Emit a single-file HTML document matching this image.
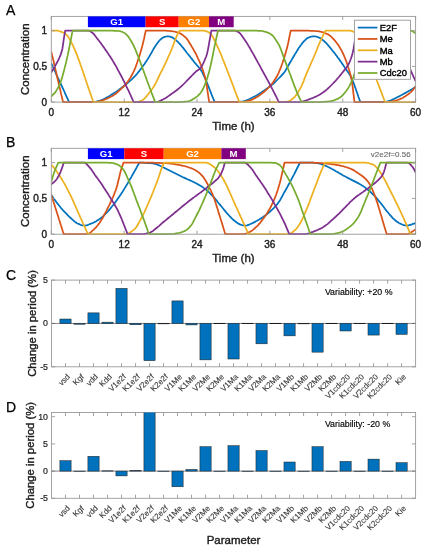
<!DOCTYPE html>
<html><head><meta charset="utf-8"><style>
html,body{margin:0;padding:0;background:#fff;width:426px;height:550px;overflow:hidden}
svg{display:block;font-family:"Liberation Sans", sans-serif}
#wrap{width:426px;height:550px;will-change:transform}
</style></head><body><div id="wrap">
<svg width="426" height="550" viewBox="0 0 426 550">
<g>
<rect width="426" height="550" fill="#fff"/>
<clipPath id="clipA"><rect x="51.3" y="15.399999999999999" width="364.3" height="87.69999999999999"/></clipPath>
<g clip-path="url(#clipA)" fill="none" stroke-width="1.75" stroke-linejoin="round" stroke-linecap="round">
<path d="M51.4,63.6 L52.4,65.7 L53.4,67.9 L54.4,70.0 L55.4,72.2 L56.3,74.3 L57.3,76.5 L58.3,78.6 L59.3,80.8 L60.3,82.9 L61.3,85.0 L62.3,87.2 L63.3,89.3 L64.3,91.5 L65.2,93.6 L66.2,95.8 L67.2,97.9 L68.2,100.1 L69.2,102.1 L70.2,102.1 L71.2,102.1 L72.2,102.1 L73.2,102.1 L74.2,102.1 L75.1,102.1 L76.1,102.1 L77.1,102.1 L78.1,102.1 L79.1,102.1 L80.1,102.1 L81.1,102.1 L82.1,102.1 L83.1,102.1 L84.1,102.1 L85.1,102.1 L86.1,102.1 L87.0,102.1 L88.0,102.1 L89.0,102.1 L90.0,102.1 L91.0,102.1 L92.0,102.1 L93.0,102.1 L94.0,102.1 L95.0,101.9 L96.0,101.7 L97.0,101.4 L98.0,101.2 L99.0,100.9 L100.0,100.6 L101.0,100.3 L102.0,99.9 L103.0,99.5 L103.9,99.0 L104.9,98.5 L105.9,97.9 L106.9,97.4 L107.8,96.9 L108.6,96.4 L109.5,95.9 L110.3,95.4 L111.2,94.8 L112.0,94.3 L113.0,93.7 L114.0,93.1 L115.0,92.5 L116.0,91.9 L117.0,91.2 L118.0,90.5 L119.0,89.8 L120.0,89.0 L121.0,88.3 L122.0,87.5 L122.9,86.8 L123.7,86.1 L124.6,85.5 L125.5,84.8 L126.3,84.0 L127.2,83.3 L128.2,82.4 L129.2,81.6 L130.2,80.7 L131.2,79.8 L132.2,78.8 L133.2,77.9 L134.2,76.8 L135.2,75.8 L136.1,74.8 L137.0,73.8 L137.9,72.7 L138.8,71.7 L139.6,70.5 L140.5,69.4 L141.4,68.2 L142.3,67.0 L143.3,65.6 L144.3,64.2 L145.3,62.7 L146.3,61.2 L147.3,59.7 L148.3,58.1 L149.3,56.5 L150.2,54.9 L151.2,53.3 L152.1,51.6 L153.0,49.9 L154.0,48.3 L154.9,46.8 L155.8,45.4 L156.8,44.0 L157.7,42.7 L158.6,41.5 L159.6,40.4 L160.5,39.5 L161.3,38.8 L162.2,38.1 L163.0,37.6 L163.8,37.2 L164.6,36.9 L165.5,36.7 L166.3,36.5 L167.2,36.3 L168.0,36.3 L168.8,36.4 L169.6,36.5 L170.5,36.8 L171.3,37.1 L172.1,37.4 L172.9,37.8 L173.7,38.4 L174.6,39.0 L175.4,39.7 L176.2,40.4 L177.0,41.1 L177.9,41.9 L178.7,42.8 L179.6,43.7 L180.4,44.6 L181.3,45.7 L182.2,46.8 L183.2,47.9 L184.1,49.1 L185.0,50.3 L185.9,51.5 L186.8,52.7 L187.7,53.8 L188.7,55.0 L189.6,56.1 L190.5,57.3 L191.4,58.4 L192.3,59.6 L193.3,60.7 L194.2,61.9 L195.1,63.1 L196.1,64.2 L197.0,65.3 L198.0,66.4 L199.0,67.5 L200.0,68.7 L201.0,70.2 L202.0,71.9 L203.0,73.8 L203.9,75.8 L204.9,78.0 L205.9,80.3 L206.9,82.7 L207.9,85.1 L208.9,87.6 L209.9,90.1 L210.9,92.6 L211.8,95.1 L212.8,97.5 L213.8,99.9 L214.8,102.1 L215.8,102.1 L216.8,102.1 L217.7,102.1 L218.7,102.1 L219.7,102.1 L220.7,102.1 L221.6,102.1 L222.6,102.1 L223.6,102.1 L224.6,102.1 L225.6,102.1 L226.5,102.1 L227.5,102.1 L228.5,102.1 L229.5,102.1 L230.5,102.1 L231.4,102.1 L232.4,102.1 L233.4,102.1 L234.4,102.1 L235.3,102.1 L236.3,102.1 L237.3,102.1 L238.3,102.1 L239.2,102.1 L240.2,101.9 L241.2,101.7 L242.1,101.5 L243.1,101.3 L244.0,101.0 L245.0,100.8 L246.0,100.5 L247.0,100.1 L248.0,99.7 L249.0,99.3 L250.0,98.8 L251.0,98.3 L252.0,97.8 L253.0,97.3 L254.0,96.8 L255.0,96.3 L256.0,95.8 L257.0,95.2 L258.0,94.6 L259.0,94.0 L260.0,93.3 L261.0,92.7 L262.0,92.0 L263.0,91.3 L264.0,90.6 L265.0,89.9 L266.0,89.2 L267.0,88.5 L267.9,87.9 L268.7,87.3 L269.6,86.6 L270.5,86.0 L271.3,85.3 L272.2,84.6 L273.2,83.8 L274.2,82.9 L275.2,81.9 L276.1,81.0 L277.1,80.0 L278.1,79.0 L279.1,78.0 L280.0,77.1 L280.9,76.2 L281.8,75.2 L282.7,74.2 L283.6,73.2 L284.5,72.0 L285.4,70.7 L286.3,69.1 L287.2,67.5 L288.1,65.9 L289.0,64.3 L289.9,62.7 L290.8,61.2 L291.8,59.6 L292.7,58.0 L293.6,56.5 L294.5,55.0 L295.4,53.4 L296.4,51.9 L297.4,50.3 L298.3,48.8 L299.2,47.4 L300.2,46.0 L301.2,44.7 L302.1,43.4 L303.1,42.2 L304.1,41.1 L304.9,40.3 L305.8,39.5 L306.6,38.7 L307.5,38.1 L308.3,37.7 L309.2,37.3 L310.1,37.0 L311.1,36.7 L312.0,36.5 L312.9,36.4 L313.8,36.3 L314.7,36.4 L315.6,36.5 L316.6,36.7 L317.5,37.0 L318.4,37.4 L319.3,37.7 L320.2,38.1 L321.2,38.7 L322.1,39.4 L323.0,40.2 L324.0,41.0 L324.9,41.8 L325.8,42.7 L326.7,43.6 L327.6,44.7 L328.6,45.8 L329.5,46.9 L330.4,48.0 L331.3,49.1 L332.2,50.2 L333.1,51.4 L334.1,52.5 L335.0,53.7 L335.9,54.9 L336.8,56.1 L337.7,57.4 L338.6,58.6 L339.6,59.9 L340.5,61.2 L341.4,62.5 L342.3,63.9 L343.3,65.2 L344.2,66.6 L345.1,68.1 L346.1,69.4 L347.0,70.8 L348.0,72.1 L349.0,73.5 L350.0,75.0 L350.9,76.8 L351.9,78.8 L352.8,81.1 L353.8,83.5 L354.7,86.1 L355.7,88.8 L356.6,91.5 L357.6,94.3 L358.5,97.0 L359.5,99.7 L360.4,102.1 L361.4,102.1 L362.3,102.1 L363.3,102.1 L364.2,102.1 L365.2,102.1 L366.2,102.1 L367.1,102.1 L368.1,102.1 L369.1,102.1 L370.0,102.1 L371.0,102.1 L371.9,102.1 L372.9,102.1 L373.9,102.1 L374.8,102.1 L375.8,102.1 L376.8,102.1 L377.7,102.1 L378.7,102.1 L379.6,102.1 L380.6,102.1 L381.6,102.1 L382.5,102.1 L383.5,102.1 L384.4,102.1 L385.4,102.0 L386.3,101.8 L387.2,101.5 L388.1,101.2 L389.1,100.9 L390.0,100.6 L391.0,100.3 L391.9,99.9 L392.9,99.4 L393.8,99.0 L394.8,98.5 L395.7,98.0 L396.7,97.5 L397.6,97.1 L398.5,96.6 L399.4,96.2 L400.2,95.7 L401.1,95.3 L402.0,94.8 L403.0,94.3 L404.0,93.7 L405.0,93.1 L406.0,92.6 L407.0,92.0 L407.9,91.5 L408.8,91.0 L409.7,90.5 L410.6,90.0 L411.5,89.5 L412.3,89.0 L413.2,88.4 L414.0,87.9 L414.9,87.3 L415.7,86.8" stroke="#0072BD"/>
<path d="M51.4,52.2 L52.4,56.4 L53.4,60.5 L54.3,64.7 L55.3,68.9 L56.3,73.0 L57.2,77.2 L58.2,81.4 L59.2,85.5 L60.2,89.7 L61.1,93.9 L62.1,98.0 L63.1,102.1 L64.1,102.1 L65.1,102.1 L66.1,102.1 L67.1,102.1 L68.1,102.1 L69.1,102.1 L70.1,102.1 L71.1,102.1 L72.1,102.1 L73.1,102.1 L74.1,102.1 L75.1,102.1 L76.1,102.1 L77.1,102.1 L78.0,102.1 L79.0,102.1 L80.0,102.1 L81.0,102.1 L82.0,102.1 L83.0,102.1 L84.0,102.1 L85.0,102.1 L86.0,102.1 L87.0,102.1 L88.0,102.1 L89.0,102.1 L90.0,102.1 L91.0,102.1 L92.0,102.1 L93.0,102.1 L94.0,102.1 L95.0,102.1 L96.0,102.0 L97.0,101.8 L98.0,101.6 L99.0,101.4 L100.0,101.2 L101.0,101.0 L102.0,100.6 L103.0,100.3 L103.9,99.9 L104.9,99.5 L105.9,99.0 L106.9,98.6 L107.9,98.2 L108.9,97.7 L109.9,97.3 L110.8,96.8 L111.8,96.3 L112.8,95.7 L113.8,95.1 L114.8,94.4 L115.8,93.7 L116.8,92.9 L117.7,92.0 L118.7,91.1 L119.7,90.2 L120.7,89.3 L121.6,88.4 L122.6,87.6 L123.5,86.7 L124.5,85.7 L125.4,84.7 L126.2,83.7 L127.0,82.6 L127.9,81.5 L128.7,80.3 L129.5,79.0 L130.4,77.6 L131.2,76.2 L132.1,74.8 L132.9,73.2 L133.8,71.4 L134.6,69.5 L135.5,67.3 L136.3,65.0 L137.2,62.6 L138.0,60.1 L138.9,57.5 L139.7,54.9 L140.6,52.1 L141.4,49.2 L142.3,46.0 L143.2,42.4 L144.1,38.5 L144.9,34.4 L145.8,30.7 L146.7,30.7 L147.7,30.7 L148.6,30.7 L149.6,30.7 L150.5,30.7 L151.5,30.7 L152.4,30.7 L153.4,30.7 L154.3,30.7 L155.3,30.7 L156.2,30.7 L157.2,30.7 L158.1,30.7 L159.1,30.7 L160.0,30.7 L160.9,30.7 L161.8,30.7 L162.7,30.7 L163.6,30.7 L164.6,30.7 L165.5,30.7 L166.4,30.7 L167.3,30.8 L168.2,30.8 L169.1,30.9 L170.0,31.0 L171.0,31.1 L171.9,31.2 L172.8,31.3 L173.8,31.5 L174.7,31.6 L175.6,31.8 L176.6,32.1 L177.5,32.3 L178.4,32.6 L179.4,33.0 L180.3,33.5 L181.3,34.1 L182.2,34.7 L183.2,35.4 L184.1,36.2 L185.1,37.0 L186.0,37.9 L186.9,38.9 L187.9,40.2 L188.8,41.7 L189.7,43.2 L190.7,44.8 L191.6,46.4 L192.6,48.0 L193.5,49.6 L194.4,51.3 L195.4,53.0 L196.4,54.9 L197.3,56.8 L198.2,58.8 L199.2,60.8 L200.1,63.0 L201.0,65.3 L202.0,67.7 L202.9,70.3 L203.8,73.1 L204.8,76.2 L205.7,80.0 L206.6,84.6 L207.4,90.3 L208.3,96.3 L209.2,102.1 L210.2,102.1 L211.2,102.1 L212.2,102.1 L213.2,102.1 L214.2,102.1 L215.2,102.1 L216.2,102.1 L217.1,102.1 L218.1,102.1 L219.1,102.1 L220.1,102.1 L221.1,102.1 L222.1,102.1 L223.1,102.1 L224.1,102.1 L225.1,102.1 L226.1,102.1 L227.1,102.1 L228.1,102.1 L229.1,102.1 L230.1,102.1 L231.1,102.1 L232.1,102.1 L233.0,102.1 L234.0,102.1 L235.0,102.1 L236.0,102.1 L237.0,102.1 L238.0,102.1 L239.0,102.1 L240.0,102.1 L241.0,102.1 L242.0,102.1 L243.0,102.0 L244.0,101.8 L245.0,101.6 L246.0,101.4 L247.0,101.1 L248.0,100.9 L249.0,100.6 L250.0,100.3 L251.0,100.0 L252.0,99.6 L253.0,99.1 L253.9,98.7 L254.9,98.1 L255.9,97.6 L256.9,97.0 L257.9,96.4 L258.9,95.8 L259.9,95.1 L260.8,94.4 L261.8,93.6 L262.8,92.8 L263.8,92.0 L264.8,91.2 L265.8,90.3 L266.8,89.4 L267.7,88.5 L268.7,87.5 L269.7,86.4 L270.7,85.3 L271.7,84.1 L272.7,82.8 L273.7,81.5 L274.6,80.0 L275.6,78.5 L276.6,76.8 L277.6,75.0 L278.5,73.1 L279.4,71.0 L280.4,68.7 L281.3,66.2 L282.2,63.7 L283.1,61.0 L284.0,58.4 L284.9,55.6 L285.7,52.6 L286.6,49.4 L287.5,46.0 L288.3,42.5 L289.1,38.5 L289.9,34.4 L290.7,30.7 L291.7,30.7 L292.6,30.7 L293.6,30.7 L294.5,30.7 L295.5,30.7 L296.4,30.7 L297.4,30.7 L298.3,30.7 L299.3,30.7 L300.2,30.7 L301.2,30.7 L302.1,30.7 L303.1,30.7 L304.0,30.7 L305.0,30.7 L306.0,30.7 L306.9,30.7 L307.9,30.7 L308.9,30.7 L309.8,30.8 L310.8,30.8 L311.8,30.8 L312.7,30.9 L313.7,30.9 L314.6,31.0 L315.6,31.1 L316.6,31.1 L317.5,31.2 L318.5,31.3 L319.4,31.4 L320.4,31.6 L321.3,31.8 L322.2,32.0 L323.1,32.3 L324.1,32.7 L325.0,33.0 L325.9,33.4 L326.8,33.9 L327.8,34.3 L328.7,34.8 L329.6,35.4 L330.5,36.0 L331.4,36.9 L332.4,37.8 L333.3,38.8 L334.2,39.8 L335.1,40.9 L336.0,42.0 L337.0,43.2 L337.9,44.6 L338.9,46.0 L339.9,47.6 L340.8,49.3 L341.8,51.0 L342.6,52.6 L343.4,54.3 L344.2,56.1 L345.0,58.0 L345.8,60.1 L346.6,62.3 L347.4,64.7 L348.2,67.3 L349.1,69.9 L349.9,72.8 L350.8,76.1 L351.6,80.0 L352.6,86.3 L353.5,94.2 L354.5,102.1 L355.5,102.1 L356.5,102.1 L357.5,102.1 L358.4,102.1 L359.4,102.1 L360.4,102.1 L361.4,102.1 L362.4,102.1 L363.4,102.1 L364.3,102.1 L365.3,102.1 L366.3,102.1 L367.3,102.1 L368.3,102.1 L369.3,102.1 L370.2,102.1 L371.2,102.1 L372.2,102.1 L373.2,102.1 L374.2,102.1 L375.2,102.1 L376.1,102.1 L377.1,102.1 L378.1,102.1 L379.1,102.1 L380.1,102.1 L381.1,102.1 L382.0,102.1 L383.0,102.1 L384.0,102.1 L385.0,102.1 L386.0,102.1 L387.0,102.1 L388.0,102.0 L389.0,101.8 L390.0,101.6 L391.0,101.5 L392.0,101.3 L392.9,101.1 L393.9,101.0 L394.8,100.8 L395.8,100.5 L396.7,100.3 L397.6,100.0 L398.5,99.7 L399.4,99.4 L400.2,99.0 L401.1,98.6 L402.0,98.2 L403.0,97.7 L404.0,97.1 L405.0,96.5 L406.0,95.8 L407.0,95.1 L407.9,94.5 L408.8,93.8 L409.7,93.1 L410.6,92.3 L411.5,91.5 L412.3,90.6 L413.2,89.6 L414.0,88.5 L414.9,87.4 L415.7,86.3" stroke="#D95319"/>
<path d="M51.4,30.7 L52.3,30.7 L53.2,30.7 L54.2,30.7 L55.1,30.7 L56.0,30.7 L56.9,30.7 L57.9,30.7 L58.8,31.0 L59.8,31.3 L60.7,31.6 L61.6,31.9 L62.6,32.3 L63.5,32.8 L64.4,33.3 L65.4,33.9 L66.3,34.6 L67.1,35.4 L68.0,36.5 L68.8,37.9 L69.7,39.3 L70.5,40.8 L71.5,42.7 L72.5,44.7 L73.5,46.8 L74.5,49.1 L75.5,51.4 L76.5,53.9 L77.5,56.5 L78.5,59.1 L79.5,61.9 L80.5,64.7 L81.5,67.5 L82.5,70.4 L83.5,73.3 L84.5,76.3 L85.5,79.2 L86.5,82.2 L87.5,85.2 L88.5,88.1 L89.5,91.0 L90.5,93.9 L91.5,96.7 L92.5,99.5 L93.5,102.1 L94.5,102.1 L95.5,102.1 L96.5,102.1 L97.5,102.1 L98.4,102.1 L99.4,102.1 L100.4,102.1 L101.4,102.1 L102.4,102.1 L103.4,102.1 L104.4,102.1 L105.4,102.1 L106.3,102.1 L107.3,102.1 L108.3,102.1 L109.3,102.1 L110.3,102.1 L111.3,102.1 L112.3,102.1 L113.3,102.1 L114.3,102.1 L115.2,102.1 L116.2,102.1 L117.2,102.1 L118.2,102.1 L119.2,102.1 L120.2,102.1 L121.2,102.1 L122.2,102.1 L123.2,102.1 L124.1,102.1 L125.1,102.1 L126.1,102.1 L127.1,102.1 L128.1,102.1 L129.1,102.1 L130.1,102.1 L131.1,102.1 L132.0,102.1 L133.0,102.1 L134.0,102.1 L135.0,102.1 L136.0,102.1 L136.9,102.1 L137.8,102.0 L138.7,101.7 L139.6,101.4 L140.5,101.0 L141.4,100.6 L142.3,100.2 L143.3,99.6 L144.3,98.7 L145.3,97.7 L146.3,96.6 L147.3,95.3 L148.3,94.1 L149.3,92.8 L150.2,91.6 L151.2,90.3 L152.2,89.0 L153.1,87.6 L154.1,86.1 L155.0,84.5 L156.0,82.7 L157.0,80.6 L158.0,78.5 L159.0,76.3 L160.0,74.2 L160.9,72.3 L161.9,70.5 L162.9,68.6 L163.8,66.7 L164.8,64.6 L165.8,62.5 L166.8,60.4 L167.7,58.2 L168.7,56.0 L169.7,53.8 L170.7,51.5 L171.7,49.1 L172.7,46.5 L173.7,43.9 L174.6,41.3 L175.6,38.8 L176.6,36.4 L177.6,34.2 L178.3,32.8 L179.0,31.6 L179.7,30.7 L180.7,30.7 L181.6,30.7 L182.6,30.7 L183.6,30.7 L184.5,30.7 L185.5,30.7 L186.5,30.7 L187.4,30.7 L188.4,30.7 L189.4,30.7 L190.3,30.7 L191.3,30.7 L192.3,30.7 L193.2,30.7 L194.2,30.7 L195.2,30.7 L196.1,30.7 L197.1,30.7 L198.1,30.7 L199.0,30.7 L200.0,30.7 L201.0,30.7 L202.0,30.7 L203.0,30.7 L204.0,30.7 L204.9,30.8 L205.9,31.1 L206.9,31.5 L207.7,31.8 L208.5,32.3 L209.4,32.8 L210.2,33.5 L211.0,34.2 L211.9,35.5 L212.9,37.2 L213.8,39.0 L214.7,40.8 L215.7,42.6 L216.6,44.6 L217.6,46.8 L218.6,49.0 L219.6,51.3 L220.6,53.6 L221.6,56.0 L222.5,58.5 L223.5,60.9 L224.5,63.4 L225.5,66.0 L226.5,68.5 L227.5,71.1 L228.5,73.7 L229.5,76.3 L230.5,78.9 L231.5,81.5 L232.5,84.1 L233.5,86.8 L234.4,89.4 L235.4,92.0 L236.4,94.6 L237.4,97.1 L238.4,99.7 L239.4,102.1 L240.4,102.1 L241.4,102.1 L242.4,102.1 L243.4,102.1 L244.4,102.1 L245.3,102.1 L246.3,102.1 L247.3,102.1 L248.3,102.1 L249.3,102.1 L250.3,102.1 L251.3,102.1 L252.3,102.1 L253.3,102.1 L254.3,102.1 L255.3,102.1 L256.2,102.1 L257.2,102.1 L258.2,102.1 L259.2,102.1 L260.2,102.1 L261.2,102.1 L262.2,102.1 L263.2,102.1 L264.2,102.1 L265.2,102.1 L266.1,102.1 L267.1,102.1 L268.1,102.1 L269.1,102.1 L270.1,102.1 L271.1,102.1 L272.1,102.1 L273.1,102.1 L274.1,102.1 L275.1,102.1 L276.1,102.1 L277.0,102.1 L278.0,102.1 L279.0,102.1 L280.0,102.1 L281.0,102.1 L282.0,102.1 L283.0,102.1 L284.0,102.1 L285.0,102.0 L286.0,101.9 L287.0,101.7 L288.0,101.5 L288.9,101.2 L289.7,100.8 L290.6,100.3 L291.5,99.7 L292.3,99.0 L293.2,98.3 L294.2,97.4 L295.2,96.2 L296.2,94.9 L297.2,93.5 L298.2,91.9 L299.2,90.2 L300.2,88.5 L301.1,86.8 L302.0,84.9 L302.9,82.8 L303.8,80.6 L304.6,78.4 L305.5,76.1 L306.4,73.9 L307.3,71.8 L308.2,69.7 L309.2,67.6 L310.1,65.5 L311.0,63.4 L311.9,61.3 L312.9,59.2 L313.8,57.0 L314.8,54.7 L315.8,52.2 L316.8,49.8 L317.7,47.4 L318.7,45.0 L319.7,42.6 L320.7,40.4 L321.7,38.3 L322.7,36.3 L323.6,34.3 L324.6,32.3 L325.6,30.7 L326.6,30.7 L327.5,30.7 L328.5,30.7 L329.5,30.7 L330.5,30.7 L331.4,30.7 L332.4,30.7 L333.4,30.7 L334.3,30.7 L335.3,30.7 L336.3,30.7 L337.3,30.7 L338.2,30.7 L339.2,30.7 L340.2,30.7 L341.1,30.7 L342.1,30.7 L343.1,30.7 L344.1,30.7 L345.0,30.7 L346.0,30.7 L347.0,30.7 L348.0,30.7 L349.0,30.7 L350.0,30.7 L351.0,30.8 L352.0,31.1 L353.0,31.5 L354.0,31.9 L355.0,32.5 L356.0,33.3 L357.0,34.2 L358.0,35.5 L359.0,37.1 L360.0,39.0 L360.8,40.7 L361.7,42.6 L362.5,44.6 L363.5,46.9 L364.5,49.3 L365.5,51.7 L366.4,54.1 L367.4,56.5 L368.4,59.0 L369.4,61.5 L370.4,64.0 L371.4,66.5 L372.4,69.0 L373.4,71.6 L374.3,74.1 L375.3,76.7 L376.3,79.2 L377.3,81.8 L378.3,84.4 L379.3,86.9 L380.3,89.5 L381.3,92.1 L382.2,94.6 L383.2,97.2 L384.2,99.7 L385.2,102.1 L386.2,102.1 L387.2,102.1 L388.1,102.1 L389.1,102.1 L390.1,102.1 L391.1,102.1 L392.1,102.1 L393.0,102.1 L394.0,102.1 L395.0,102.1 L396.0,102.1 L397.0,102.1 L397.9,102.1 L398.9,102.1 L399.9,102.1 L400.9,102.1 L401.9,102.1 L402.9,102.1 L403.8,102.1 L404.8,102.1 L405.8,102.1 L406.8,102.1 L407.8,102.1 L408.7,102.1 L409.7,102.1 L410.7,102.1 L411.7,102.1 L412.7,102.1 L413.6,102.1 L414.6,102.1 L415.6,102.1" stroke="#EDB120"/>
<path d="M51.4,72.2 L52.2,70.8 L53.0,69.5 L53.9,68.1 L54.7,66.8 L55.5,65.3 L56.3,63.8 L57.2,62.3 L58.0,60.7 L58.9,58.9 L59.7,57.0 L60.6,54.8 L61.5,52.1 L62.4,48.7 L63.1,44.2 L63.8,39.0 L64.5,34.6 L65.2,30.7 L66.2,30.7 L67.2,30.7 L68.2,30.7 L69.2,30.7 L70.2,30.7 L71.1,30.7 L72.1,30.7 L73.1,30.7 L74.1,30.7 L75.1,30.7 L76.1,30.7 L77.1,30.7 L78.1,30.7 L79.1,30.7 L80.1,30.7 L81.1,30.7 L82.1,30.7 L83.0,30.7 L84.0,30.7 L85.0,30.7 L86.0,30.7 L87.0,30.7 L88.0,30.7 L89.0,30.7 L90.0,31.1 L91.0,31.8 L92.0,32.5 L92.9,33.2 L93.8,34.2 L94.7,35.2 L95.5,36.3 L96.4,37.5 L97.3,38.6 L98.2,39.7 L99.0,40.8 L99.9,42.0 L100.8,43.1 L101.6,44.3 L102.5,45.5 L103.4,46.8 L104.3,48.1 L105.2,49.4 L106.2,50.7 L107.1,52.0 L108.0,53.4 L109.0,54.9 L109.9,56.3 L110.9,57.8 L111.9,59.3 L112.8,60.9 L113.8,62.5 L114.8,64.2 L115.8,65.9 L116.8,67.7 L117.7,69.5 L118.7,71.3 L119.7,73.1 L120.7,75.0 L121.7,76.9 L122.7,78.8 L123.7,80.8 L124.6,82.7 L125.6,84.7 L126.6,86.8 L127.6,88.8 L128.5,90.7 L129.4,92.6 L130.3,94.5 L131.1,96.4 L132.0,98.3 L132.9,100.3 L133.8,102.1 L134.8,102.1 L135.8,102.1 L136.8,102.1 L137.7,102.1 L138.7,102.1 L139.7,102.1 L140.7,102.1 L141.7,102.1 L142.7,102.1 L143.7,102.1 L144.7,102.1 L145.6,102.1 L146.6,102.1 L147.6,102.1 L148.6,102.1 L149.6,102.1 L150.6,102.1 L151.6,102.1 L152.5,102.1 L153.5,102.1 L154.5,102.1 L155.5,102.1 L156.4,102.1 L157.3,102.0 L158.3,101.7 L159.2,101.3 L160.1,100.9 L161.0,100.4 L162.0,99.9 L162.9,99.5 L163.8,99.0 L164.8,98.5 L165.8,97.9 L166.8,97.3 L167.7,96.6 L168.7,95.9 L169.7,95.2 L170.7,94.5 L171.7,93.8 L172.7,93.1 L173.7,92.5 L174.6,91.7 L175.6,91.0 L176.6,90.3 L177.6,89.5 L178.5,88.7 L179.5,87.9 L180.4,87.1 L181.3,86.3 L182.3,85.4 L183.2,84.5 L184.2,83.5 L185.2,82.5 L186.2,81.5 L187.2,80.4 L188.2,79.4 L189.2,78.3 L190.2,77.3 L191.1,76.4 L192.0,75.5 L192.9,74.6 L193.8,73.7 L194.6,72.9 L195.5,72.0 L196.4,71.2 L197.3,70.5 L198.2,69.9 L199.2,69.3 L200.1,68.5 L200.9,67.5 L201.8,66.1 L202.6,64.6 L203.5,62.8 L204.3,61.0 L205.2,58.9 L206.2,56.5 L207.1,53.5 L207.9,50.0 L208.7,45.6 L209.5,41.0 L210.4,35.8 L211.3,30.7 L212.3,30.7 L213.3,30.7 L214.3,30.7 L215.2,30.7 L216.2,30.7 L217.2,30.7 L218.2,30.7 L219.2,30.7 L220.2,30.7 L221.2,30.7 L222.2,30.7 L223.1,30.7 L224.1,30.7 L225.1,30.7 L226.1,30.7 L227.1,30.7 L228.1,30.7 L229.1,30.7 L230.0,30.7 L231.0,30.7 L232.0,30.7 L233.0,30.7 L234.0,30.7 L235.0,30.7 L236.0,31.0 L237.0,31.4 L238.0,31.8 L238.9,32.4 L239.9,33.2 L240.8,34.3 L241.7,35.5 L242.6,36.8 L243.6,38.2 L244.5,39.5 L245.5,40.9 L246.5,42.4 L247.4,43.9 L248.4,45.6 L249.4,47.2 L250.4,48.9 L251.3,50.7 L252.3,52.4 L253.3,54.1 L254.3,55.8 L255.2,57.5 L256.2,59.3 L257.2,61.1 L258.1,62.9 L259.1,64.6 L260.1,66.4 L261.0,68.2 L262.0,70.0 L262.9,71.6 L263.8,73.3 L264.7,74.9 L265.6,76.5 L266.5,78.1 L267.4,79.8 L268.3,81.4 L269.2,83.1 L270.2,85.0 L271.2,86.8 L272.1,88.7 L273.1,90.6 L274.1,92.6 L275.1,94.5 L276.1,96.4 L277.0,98.4 L278.0,100.3 L279.0,102.1 L280.0,102.1 L281.0,102.1 L282.0,102.1 L283.0,102.1 L284.0,102.1 L285.0,102.1 L286.0,102.1 L287.0,102.1 L288.0,102.1 L289.0,102.1 L290.0,102.1 L291.0,102.1 L292.0,102.1 L293.0,102.1 L294.0,102.1 L295.0,102.1 L296.0,102.1 L297.0,102.1 L298.0,102.1 L299.0,102.1 L299.9,102.1 L300.9,101.9 L301.9,101.7 L302.8,101.5 L303.8,101.2 L304.8,100.9 L305.7,100.6 L306.7,100.2 L307.6,99.9 L308.6,99.5 L309.6,99.1 L310.5,98.8 L311.5,98.4 L312.4,98.1 L313.4,97.7 L314.3,97.3 L315.2,96.9 L316.1,96.4 L317.1,96.0 L318.0,95.5 L319.0,95.0 L320.0,94.4 L321.0,93.8 L322.0,93.1 L323.0,92.5 L324.0,91.7 L325.0,91.0 L326.0,90.2 L327.0,89.3 L328.0,88.4 L329.0,87.5 L330.0,86.5 L331.0,85.5 L332.0,84.5 L333.0,83.5 L334.0,82.4 L335.0,81.4 L336.0,80.3 L337.0,79.1 L338.0,78.0 L338.9,77.0 L339.7,75.9 L340.6,74.9 L341.5,73.8 L342.3,72.7 L343.2,71.6 L344.0,70.6 L344.9,69.6 L345.7,68.5 L346.6,67.4 L347.4,66.1 L348.3,64.6 L349.2,62.8 L350.1,60.8 L351.0,58.5 L351.8,55.9 L352.7,52.7 L353.5,49.0 L354.3,44.3 L355.1,39.0 L355.8,34.7 L356.5,30.7 L357.5,30.7 L358.5,30.7 L359.4,30.7 L360.4,30.7 L361.4,30.7 L362.4,30.7 L363.4,30.7 L364.3,30.7 L365.3,30.7 L366.3,30.7 L367.3,30.7 L368.3,30.7 L369.2,30.7 L370.2,30.7 L371.2,30.7 L372.2,30.7 L373.2,30.7 L374.2,30.7 L375.1,30.7 L376.1,30.7 L377.1,30.7 L378.1,30.7 L379.1,30.7 L380.0,30.7 L381.0,30.7 L382.0,30.7 L382.9,30.7 L383.7,31.4 L384.6,32.6 L385.5,33.8 L386.3,35.1 L387.2,36.3 L388.1,37.4 L389.1,38.6 L390.0,39.8 L390.9,40.9 L391.9,42.1 L392.8,43.2 L393.8,44.3 L394.8,45.4 L395.8,46.6 L396.8,47.8 L397.8,49.0 L398.8,50.2 L399.7,51.5 L400.7,52.8 L401.7,54.1 L402.7,55.6 L403.7,57.1 L404.7,58.8 L405.7,60.5 L406.6,62.3 L407.6,64.2 L408.6,66.1 L409.6,68.1 L410.4,69.7 L411.1,71.4 L412.0,73.4 L412.9,75.3 L413.8,77.3 L414.7,79.2 L415.6,81.2" stroke="#7E2F8E"/>
<path d="M51.4,96.4 L52.3,95.4 L53.2,94.4 L54.2,93.5 L55.1,92.4 L56.0,91.2 L56.8,89.9 L57.7,88.5 L58.5,86.9 L59.4,85.1 L60.2,83.2 L61.0,81.0 L61.8,78.4 L62.7,75.5 L63.5,72.5 L64.3,69.4 L65.1,66.1 L66.0,62.7 L66.8,59.1 L67.7,55.4 L68.5,51.5 L69.3,47.5 L70.1,43.3 L71.0,39.0 L71.8,34.6 L72.6,30.7 L73.6,30.7 L74.6,30.7 L75.5,30.7 L76.5,30.7 L77.5,30.7 L78.5,30.7 L79.4,30.7 L80.4,30.7 L81.4,30.7 L82.4,30.7 L83.4,30.7 L84.3,30.7 L85.3,30.7 L86.3,30.7 L87.3,30.7 L88.3,30.7 L89.2,30.7 L90.2,30.7 L91.2,30.7 L92.2,30.7 L93.2,30.7 L94.1,30.7 L95.1,30.7 L96.1,30.7 L97.1,30.7 L98.0,30.7 L99.0,30.7 L100.0,30.7 L101.0,30.7 L102.0,30.7 L103.0,30.7 L104.0,30.7 L105.0,30.7 L106.0,30.7 L107.0,30.7 L108.0,30.7 L109.0,30.7 L110.0,30.7 L111.0,30.7 L112.0,30.7 L113.0,30.7 L114.0,30.8 L115.0,30.8 L116.0,30.8 L117.0,30.8 L118.0,30.9 L119.0,31.0 L120.0,31.2 L121.0,31.5 L122.0,31.8 L123.0,32.2 L124.0,32.7 L125.0,33.4 L126.0,34.2 L127.0,35.1 L127.9,36.1 L128.8,37.3 L129.6,38.6 L130.5,40.0 L131.4,41.5 L132.2,43.0 L133.1,44.7 L134.0,46.5 L134.9,48.4 L135.8,50.5 L136.6,52.6 L137.5,54.8 L138.5,57.2 L139.4,59.7 L140.4,62.3 L141.3,64.9 L142.3,67.5 L143.2,70.1 L144.2,72.7 L145.1,75.3 L146.1,77.9 L147.0,80.5 L148.0,83.2 L149.0,85.8 L150.0,88.5 L150.9,90.8 L151.7,93.1 L152.6,95.4 L153.5,97.6 L154.3,99.9 L155.2,102.1 L156.2,102.1 L157.2,102.1 L158.2,102.1 L159.2,102.1 L160.1,102.1 L161.1,102.1 L162.1,102.1 L163.1,102.1 L164.1,102.1 L165.1,102.1 L166.1,102.1 L167.1,102.1 L168.1,102.1 L169.1,102.1 L170.1,102.1 L171.0,102.1 L172.0,102.1 L173.0,102.1 L174.0,102.1 L175.0,102.1 L176.0,102.1 L177.0,102.1 L177.9,102.1 L178.9,102.1 L179.9,102.1 L180.9,102.0 L181.8,101.9 L182.8,101.9 L183.8,101.8 L184.8,101.7 L185.8,101.6 L186.7,101.5 L187.7,101.3 L188.7,101.2 L189.6,101.0 L190.5,100.6 L191.4,100.1 L192.4,99.6 L193.3,99.0 L194.2,98.4 L195.2,97.8 L196.1,97.1 L197.1,96.4 L198.1,95.6 L199.0,94.6 L200.0,93.6 L200.9,92.4 L201.8,91.0 L202.8,89.3 L203.7,87.4 L204.6,85.4 L205.5,83.2 L206.3,81.0 L207.2,78.4 L208.0,75.6 L208.9,72.6 L209.7,69.4 L210.5,66.0 L211.3,62.2 L212.2,58.1 L213.0,54.1 L213.8,50.1 L214.6,46.1 L215.5,42.2 L216.3,38.2 L217.2,34.3 L218.0,30.7 L219.0,30.7 L220.0,30.7 L221.0,30.7 L222.0,30.7 L223.0,30.7 L224.0,30.7 L225.0,30.7 L226.0,30.7 L227.0,30.7 L228.0,30.7 L229.0,30.7 L230.0,30.7 L231.0,30.7 L232.0,30.7 L233.0,30.7 L234.0,30.7 L235.0,30.7 L236.0,30.7 L237.0,30.7 L238.0,30.7 L239.0,30.7 L240.0,30.7 L241.0,30.7 L242.0,30.7 L243.0,30.7 L244.0,30.7 L245.0,30.7 L246.0,30.7 L247.0,30.7 L248.0,30.7 L249.0,30.7 L250.0,30.7 L251.0,30.7 L252.0,30.7 L253.0,30.7 L254.0,30.7 L255.0,30.7 L256.0,30.7 L257.0,30.7 L258.0,30.8 L259.0,30.8 L260.0,30.8 L260.9,30.8 L261.9,31.0 L262.8,31.1 L263.7,31.4 L264.6,31.6 L265.6,31.9 L266.5,32.2 L267.4,32.5 L268.3,32.9 L269.2,33.3 L270.2,33.8 L271.1,34.4 L272.0,35.0 L272.9,35.8 L273.8,37.0 L274.7,38.2 L275.6,39.6 L276.5,41.0 L277.5,42.5 L278.5,44.1 L279.5,46.0 L280.3,47.9 L281.1,50.0 L282.0,52.4 L282.8,54.7 L283.6,57.0 L284.4,59.2 L285.3,61.4 L286.1,63.7 L287.0,65.9 L287.8,68.1 L288.6,70.3 L289.4,72.5 L290.3,74.7 L291.1,76.9 L291.9,79.1 L292.7,81.4 L293.6,83.6 L294.4,85.9 L295.3,88.1 L296.1,90.2 L297.0,92.3 L297.9,94.4 L298.8,96.3 L299.7,98.3 L300.6,100.2 L301.5,102.1 L302.5,102.1 L303.4,102.1 L304.4,102.1 L305.4,102.1 L306.3,102.1 L307.3,102.1 L308.2,102.1 L309.2,102.1 L310.2,102.1 L311.1,102.1 L312.1,102.1 L313.1,102.1 L314.0,102.1 L315.0,102.1 L315.9,102.1 L316.9,102.1 L317.8,102.1 L318.8,102.1 L319.7,102.1 L320.6,102.1 L321.6,102.0 L322.5,101.9 L323.5,101.9 L324.4,101.8 L325.3,101.7 L326.3,101.7 L327.2,101.6 L328.2,101.5 L329.1,101.4 L330.1,101.3 L331.1,101.1 L332.1,100.9 L333.1,100.6 L334.1,100.3 L335.0,99.9 L336.0,99.5 L337.0,99.1 L338.0,98.6 L339.0,98.1 L340.0,97.5 L341.0,96.7 L342.0,95.9 L343.0,94.8 L344.0,93.7 L345.0,92.5 L346.0,91.3 L346.9,90.0 L347.9,88.6 L348.8,87.1 L349.7,85.4 L350.7,83.5 L351.6,81.5 L352.6,79.2 L353.5,76.7 L354.4,73.8 L355.4,70.5 L356.2,67.1 L357.0,63.1 L357.9,58.7 L358.7,54.3 L359.5,50.1 L360.3,46.1 L361.2,42.1 L362.0,38.2 L362.9,34.3 L363.7,30.7 L364.7,30.7 L365.7,30.7 L366.6,30.7 L367.6,30.7 L368.6,30.7 L369.6,30.7 L370.6,30.7 L371.6,30.7 L372.5,30.7 L373.5,30.7 L374.5,30.7 L375.5,30.7 L376.5,30.7 L377.5,30.7 L378.4,30.7 L379.4,30.7 L380.4,30.7 L381.4,30.7 L382.4,30.7 L383.4,30.7 L384.3,30.7 L385.3,30.7 L386.3,30.7 L387.3,30.7 L388.3,30.7 L389.2,30.7 L390.2,30.7 L391.2,30.7 L392.2,30.7 L393.2,30.7 L394.2,30.7 L395.1,30.7 L396.1,30.7 L397.1,30.7 L398.1,30.7 L399.1,30.7 L400.1,30.7 L401.0,30.7 L402.0,30.7 L403.0,30.7 L403.9,30.7 L404.8,30.7 L405.7,30.7 L406.6,30.7 L407.5,30.7 L408.4,30.7 L409.3,30.7 L410.2,30.7 L411.1,30.8 L412.0,31.0 L412.9,31.5 L413.8,32.1 L414.7,32.7 L415.6,33.3" stroke="#77AC30"/>
</g>
<rect x="51.30" y="16.40" width="364.30" height="85.70" fill="none" stroke="#999999" stroke-width="0.9"/>
<line x1="51.30" y1="102.10" x2="51.30" y2="98.50" stroke="#999999" stroke-width="0.9"/>
<line x1="51.30" y1="16.40" x2="51.30" y2="20.00" stroke="#999999" stroke-width="0.9"/>
<line x1="124.16" y1="102.10" x2="124.16" y2="98.50" stroke="#999999" stroke-width="0.9"/>
<line x1="124.16" y1="16.40" x2="124.16" y2="20.00" stroke="#999999" stroke-width="0.9"/>
<line x1="197.02" y1="102.10" x2="197.02" y2="98.50" stroke="#999999" stroke-width="0.9"/>
<line x1="197.02" y1="16.40" x2="197.02" y2="20.00" stroke="#999999" stroke-width="0.9"/>
<line x1="269.88" y1="102.10" x2="269.88" y2="98.50" stroke="#999999" stroke-width="0.9"/>
<line x1="269.88" y1="16.40" x2="269.88" y2="20.00" stroke="#999999" stroke-width="0.9"/>
<line x1="342.74" y1="102.10" x2="342.74" y2="98.50" stroke="#999999" stroke-width="0.9"/>
<line x1="342.74" y1="16.40" x2="342.74" y2="20.00" stroke="#999999" stroke-width="0.9"/>
<line x1="415.60" y1="102.10" x2="415.60" y2="98.50" stroke="#999999" stroke-width="0.9"/>
<line x1="415.60" y1="16.40" x2="415.60" y2="20.00" stroke="#999999" stroke-width="0.9"/>
<line x1="51.30" y1="102.10" x2="54.90" y2="102.10" stroke="#999999" stroke-width="0.9"/>
<line x1="415.60" y1="102.10" x2="412.00" y2="102.10" stroke="#999999" stroke-width="0.9"/>
<line x1="51.30" y1="66.39" x2="54.90" y2="66.39" stroke="#999999" stroke-width="0.9"/>
<line x1="415.60" y1="66.39" x2="412.00" y2="66.39" stroke="#999999" stroke-width="0.9"/>
<line x1="51.30" y1="30.68" x2="54.90" y2="30.68" stroke="#999999" stroke-width="0.9"/>
<line x1="415.60" y1="30.68" x2="412.00" y2="30.68" stroke="#999999" stroke-width="0.9"/>
<rect x="87.90" y="16.40" width="57.70" height="10.80" fill="#0000FF"/>
<text x="116.75" y="25.20" font-size="9.6" font-weight="bold" text-anchor="middle" fill="#fff">G1</text>
<rect x="145.60" y="16.40" width="33.10" height="10.80" fill="#FF0000"/>
<text x="162.15" y="25.20" font-size="9.6" font-weight="bold" text-anchor="middle" fill="#fff">S</text>
<rect x="178.70" y="16.40" width="30.30" height="10.80" fill="#FF8000"/>
<text x="193.85" y="25.20" font-size="9.6" font-weight="bold" text-anchor="middle" fill="#fff">G2</text>
<rect x="209.00" y="16.40" width="24.70" height="10.80" fill="#800080"/>
<text x="221.35" y="25.20" font-size="9.6" font-weight="bold" text-anchor="middle" fill="#fff">M</text>
<text x="51.30" y="116.10" font-size="10" text-anchor="middle" fill="#1e1e1e" stroke="#1e1e1e" stroke-width="0.4" >0</text>
<text x="124.16" y="116.10" font-size="10" text-anchor="middle" fill="#1e1e1e" stroke="#1e1e1e" stroke-width="0.4" >12</text>
<text x="197.02" y="116.10" font-size="10" text-anchor="middle" fill="#1e1e1e" stroke="#1e1e1e" stroke-width="0.4" >24</text>
<text x="269.88" y="116.10" font-size="10" text-anchor="middle" fill="#1e1e1e" stroke="#1e1e1e" stroke-width="0.4" >36</text>
<text x="342.74" y="116.10" font-size="10" text-anchor="middle" fill="#1e1e1e" stroke="#1e1e1e" stroke-width="0.4" >48</text>
<text x="415.60" y="116.10" font-size="10" text-anchor="middle" fill="#1e1e1e" stroke="#1e1e1e" stroke-width="0.4" >60</text>
<text x="47.10" y="105.50" font-size="10" text-anchor="end" fill="#1e1e1e" stroke="#1e1e1e" stroke-width="0.4" >0</text>
<text x="47.10" y="69.79" font-size="10" text-anchor="end" fill="#1e1e1e" stroke="#1e1e1e" stroke-width="0.4" >0.5</text>
<text x="47.10" y="34.08" font-size="10" text-anchor="end" fill="#1e1e1e" stroke="#1e1e1e" stroke-width="0.4" >1</text>
<text x="233.45" y="129.90" font-size="11.5" text-anchor="middle" fill="#1e1e1e" stroke="#1e1e1e" stroke-width="0.4" >Time (h)</text>
<text transform="translate(28.80,59.25) rotate(-90)" x="0" y="0" font-size="11.5" text-anchor="middle" fill="#1e1e1e" stroke="#1e1e1e" stroke-width="0.4">Concentration</text>
<text x="6.00" y="15.30" font-size="14" text-anchor="start" fill="#000" stroke="#000" stroke-width="0.25" >A</text>
<clipPath id="clipB"><rect x="51.3" y="147.3" width="364.3" height="87.89999999999998"/></clipPath>
<g clip-path="url(#clipB)" fill="none" stroke-width="1.75" stroke-linejoin="round" stroke-linecap="round">
<path d="M51.4,195.2 L52.3,196.5 L53.2,197.8 L54.1,199.1 L55.1,200.3 L56.0,201.6 L56.9,202.8 L57.9,204.1 L58.9,205.3 L59.9,206.5 L60.8,207.7 L61.8,208.9 L62.8,210.0 L63.8,211.1 L64.8,212.2 L65.8,213.2 L66.8,214.2 L67.7,215.2 L68.7,216.2 L69.7,217.1 L70.7,218.0 L71.7,218.9 L72.7,219.8 L73.7,220.7 L74.6,221.6 L75.6,222.3 L76.6,223.0 L77.6,223.5 L78.6,223.9 L79.6,224.4 L80.6,224.8 L81.5,225.1 L82.5,225.4 L83.5,225.5 L84.5,225.6 L85.5,225.5 L86.5,225.3 L87.5,225.1 L88.4,224.7 L89.4,224.3 L90.4,223.9 L91.4,223.5 L92.4,223.1 L93.3,222.7 L94.3,222.2 L95.2,221.7 L96.2,221.2 L97.1,220.6 L98.1,220.0 L99.0,219.4 L100.0,218.7 L101.0,218.0 L102.0,217.2 L103.0,216.3 L103.9,215.4 L104.9,214.5 L105.9,213.5 L106.9,212.5 L107.9,211.5 L108.9,210.3 L109.9,209.2 L110.8,208.0 L111.8,206.7 L112.8,205.5 L113.8,204.2 L114.8,202.9 L115.8,201.6 L116.8,200.2 L117.7,198.8 L118.7,197.4 L119.7,196.0 L120.7,194.5 L121.7,193.0 L122.7,191.5 L123.7,189.9 L124.6,188.4 L125.6,186.8 L126.6,185.1 L127.6,183.5 L128.5,181.9 L129.4,180.3 L130.3,178.7 L131.3,177.1 L132.2,175.4 L133.1,173.8 L134.0,172.2 L134.9,170.6 L135.8,169.0 L136.7,167.4 L137.6,165.7 L138.5,164.1 L139.4,162.6 L140.4,162.6 L141.3,162.6 L142.3,162.7 L143.2,162.7 L144.2,162.8 L145.2,162.9 L146.1,162.9 L147.1,163.0 L148.0,163.0 L149.0,163.0 L150.0,163.0 L151.0,163.1 L152.0,163.3 L153.0,163.5 L154.0,163.7 L155.0,164.0 L156.0,164.2 L157.0,164.5 L158.0,164.9 L159.0,165.3 L160.0,165.8 L161.0,166.3 L162.0,166.8 L163.0,167.3 L164.0,167.7 L165.0,168.2 L166.0,168.7 L167.0,169.2 L168.0,169.7 L169.0,170.2 L170.0,170.7 L171.0,171.2 L172.0,171.7 L173.0,172.2 L174.0,172.7 L175.0,173.2 L176.0,173.7 L177.0,174.2 L178.0,174.7 L179.0,175.2 L180.0,175.7 L181.0,176.2 L182.0,176.7 L183.0,177.2 L184.0,177.6 L185.0,178.1 L186.0,178.6 L187.0,179.0 L188.0,179.5 L189.0,179.9 L190.0,180.4 L191.0,180.8 L192.0,181.3 L193.0,181.8 L194.0,182.3 L195.0,182.8 L196.0,183.3 L197.0,183.8 L198.0,184.4 L199.0,184.9 L200.0,185.5 L201.0,186.1 L202.0,186.7 L203.0,187.4 L203.9,188.1 L204.9,188.8 L205.9,189.6 L206.9,190.4 L207.9,191.3 L208.9,192.2 L209.9,193.1 L210.8,194.1 L211.8,195.2 L212.8,196.2 L213.8,197.3 L214.8,198.4 L215.8,199.6 L216.8,200.8 L217.7,202.0 L218.7,203.2 L219.7,204.4 L220.7,205.6 L221.7,206.8 L222.7,208.0 L223.7,209.2 L224.6,210.4 L225.6,211.6 L226.6,212.8 L227.6,213.9 L228.6,215.0 L229.6,216.1 L230.6,217.1 L231.5,218.2 L232.5,219.1 L233.5,220.0 L234.5,220.8 L235.5,221.5 L236.5,222.3 L237.5,223.0 L238.4,223.6 L239.4,224.1 L240.4,224.6 L241.4,224.9 L242.2,225.1 L243.1,225.3 L243.9,225.5 L244.8,225.6 L245.6,225.6 L246.5,225.5 L247.4,225.3 L248.2,224.9 L249.1,224.6 L250.0,224.2 L251.0,223.8 L252.0,223.4 L253.0,222.9 L253.9,222.4 L254.9,221.9 L255.9,221.3 L256.9,220.8 L257.9,220.2 L258.9,219.7 L259.9,219.1 L260.8,218.5 L261.8,217.8 L262.8,217.2 L263.8,216.5 L264.8,215.8 L265.8,215.1 L266.8,214.3 L267.7,213.5 L268.7,212.7 L269.7,211.9 L270.7,211.0 L271.6,210.1 L272.6,209.2 L273.5,208.3 L274.4,207.3 L275.4,206.3 L276.3,205.3 L277.3,204.1 L278.2,202.9 L279.1,201.6 L280.0,200.2 L280.9,198.6 L281.8,197.0 L282.7,195.3 L283.6,193.6 L284.5,192.0 L285.5,190.3 L286.5,188.5 L287.4,186.8 L288.4,185.0 L289.4,183.2 L290.3,181.5 L291.3,179.7 L292.2,177.9 L293.1,176.1 L294.1,174.3 L295.0,172.5 L296.0,170.5 L297.0,168.5 L298.0,166.5 L299.0,164.5 L300.0,162.6 L301.0,162.6 L302.0,162.6 L303.0,162.6 L304.0,162.6 L305.0,162.6 L306.0,162.6 L307.0,162.6 L308.0,162.7 L309.0,162.7 L310.0,162.7 L311.0,162.7 L312.0,162.7 L313.0,162.7 L314.0,162.8 L315.0,162.9 L316.0,163.0 L317.0,163.2 L318.0,163.3 L319.0,163.5 L319.9,163.7 L320.9,164.0 L321.8,164.4 L322.8,164.7 L323.7,165.1 L324.7,165.5 L325.7,165.9 L326.7,166.3 L327.6,166.8 L328.6,167.2 L329.6,167.7 L330.6,168.2 L331.5,168.7 L332.5,169.2 L333.5,169.8 L334.5,170.3 L335.4,170.9 L336.4,171.5 L337.4,172.0 L338.4,172.6 L339.3,173.2 L340.3,173.7 L341.3,174.3 L342.3,174.9 L343.2,175.4 L344.2,176.0 L345.2,176.5 L346.2,177.0 L347.2,177.6 L348.2,178.1 L349.2,178.6 L350.1,179.1 L351.1,179.6 L352.1,180.1 L353.1,180.6 L354.1,181.1 L355.1,181.6 L356.1,182.1 L357.1,182.6 L358.1,183.1 L359.1,183.7 L360.1,184.3 L361.0,184.8 L362.0,185.4 L363.0,186.1 L364.0,186.7 L365.0,187.4 L365.9,188.1 L366.8,188.8 L367.7,189.5 L368.6,190.3 L369.6,191.1 L370.5,191.9 L371.4,192.8 L372.3,193.7 L373.2,194.6 L374.1,195.5 L375.1,196.5 L376.1,197.6 L377.1,198.7 L378.0,199.9 L379.0,201.1 L380.0,202.3 L381.0,203.5 L381.9,204.6 L382.8,205.8 L383.7,207.0 L384.6,208.2 L385.5,209.4 L386.4,210.6 L387.3,211.7 L388.2,212.8 L389.2,214.0 L390.1,215.1 L391.1,216.2 L392.1,217.3 L393.0,218.3 L394.0,219.2 L394.9,220.0 L395.8,220.8 L396.7,221.5 L397.6,222.1 L398.5,222.7 L399.4,223.2 L400.3,223.6 L401.2,224.0 L402.1,224.5 L402.9,224.8 L403.8,225.1 L404.7,225.4 L405.6,225.5 L406.5,225.6 L407.4,225.6 L408.3,225.4 L409.3,225.2 L410.2,224.9 L411.1,224.6 L412.0,224.3 L412.9,223.9 L413.9,223.6 L414.8,223.3 L415.7,223.0" stroke="#0072BD"/>
<path d="M51.4,195.2 L52.4,198.2 L53.3,201.2 L54.3,204.2 L55.2,207.2 L56.2,210.2 L57.1,213.2 L58.1,216.2 L59.0,219.2 L60.0,222.2 L60.9,225.2 L61.9,228.2 L62.8,231.2 L63.8,234.2 L64.8,234.2 L65.8,234.2 L66.7,234.2 L67.7,234.2 L68.7,234.2 L69.7,234.2 L70.7,234.2 L71.6,234.2 L72.6,234.2 L73.6,234.2 L74.6,234.2 L75.5,234.2 L76.5,234.2 L77.5,234.2 L78.5,234.2 L79.5,234.2 L80.4,234.2 L81.4,234.2 L82.4,234.2 L83.4,234.2 L84.4,234.2 L85.3,234.2 L86.3,234.2 L87.3,234.2 L88.2,234.0 L89.1,233.6 L90.0,232.9 L91.0,232.1 L91.9,231.2 L92.8,230.4 L93.7,229.6 L94.6,228.7 L95.5,227.8 L96.4,226.8 L97.3,225.7 L98.2,224.6 L99.1,223.4 L100.0,222.2 L100.9,220.8 L101.8,219.3 L102.8,217.7 L103.7,216.0 L104.6,214.2 L105.5,212.5 L106.4,210.8 L107.3,209.0 L108.2,207.2 L109.2,205.3 L110.1,203.4 L111.0,201.4 L111.9,199.3 L112.9,197.3 L113.8,195.1 L114.7,192.8 L115.7,190.3 L116.6,187.6 L117.4,184.7 L118.2,181.3 L119.1,177.7 L119.9,174.1 L120.7,171.0 L121.6,168.0 L122.6,165.2 L123.5,162.6 L124.5,162.6 L125.5,162.6 L126.4,162.6 L127.4,162.6 L128.4,162.6 L129.4,162.6 L130.4,162.6 L131.4,162.6 L132.3,162.6 L133.3,162.6 L134.3,162.6 L135.3,162.6 L136.3,162.6 L137.2,162.6 L138.2,162.6 L139.2,162.6 L140.2,162.6 L141.2,162.6 L142.1,162.6 L143.1,162.6 L144.1,162.6 L145.1,162.6 L146.1,162.7 L147.1,162.7 L148.0,162.7 L149.0,162.7 L150.0,162.7 L151.0,162.7 L152.0,162.7 L152.9,162.7 L153.9,162.8 L154.9,162.8 L155.9,162.8 L156.8,162.8 L157.8,162.9 L158.8,162.9 L159.8,162.9 L160.8,163.0 L161.7,163.0 L162.7,163.1 L163.7,163.1 L164.7,163.1 L165.6,163.2 L166.6,163.2 L167.6,163.3 L168.6,163.4 L169.6,163.5 L170.5,163.6 L171.5,163.7 L172.5,163.8 L173.4,164.0 L174.4,164.1 L175.4,164.3 L176.4,164.5 L177.4,164.6 L178.3,164.8 L179.3,165.0 L180.2,165.2 L181.1,165.4 L182.1,165.6 L183.0,165.8 L183.9,166.0 L184.8,166.2 L185.8,166.5 L186.7,166.7 L187.6,167.0 L188.6,167.3 L189.6,167.7 L190.6,168.0 L191.6,168.4 L192.6,168.8 L193.6,169.3 L194.6,169.8 L195.5,170.3 L196.4,170.8 L197.3,171.4 L198.2,172.1 L199.1,172.7 L200.0,173.5 L200.8,174.3 L201.6,175.1 L202.5,176.1 L203.3,177.1 L204.1,178.2 L204.9,179.4 L205.8,180.8 L206.6,182.3 L207.5,183.9 L208.3,185.5 L209.2,187.3 L210.1,189.1 L211.1,191.1 L212.0,193.1 L212.9,195.2 L213.8,197.5 L214.6,199.8 L215.5,202.4 L216.3,205.1 L217.2,207.8 L218.0,210.5 L218.9,213.4 L219.8,216.3 L220.7,219.3 L221.7,222.3 L222.6,225.3 L223.5,228.2 L224.4,231.2 L225.3,234.2 L226.3,234.2 L227.3,234.2 L228.2,234.2 L229.2,234.2 L230.2,234.2 L231.2,234.2 L232.2,234.2 L233.2,234.2 L234.2,234.2 L235.1,234.2 L236.1,234.2 L237.1,234.2 L238.1,234.2 L239.1,234.2 L240.1,234.2 L241.0,234.2 L242.0,234.2 L243.0,234.2 L244.0,234.1 L245.0,233.9 L246.0,233.6 L247.0,233.2 L248.0,232.8 L249.0,232.3 L250.0,231.8 L251.0,231.3 L252.0,230.6 L253.0,229.9 L253.9,229.0 L254.9,228.2 L255.9,227.2 L256.9,226.3 L257.9,225.3 L258.9,224.2 L259.9,223.1 L260.8,221.9 L261.8,220.6 L262.8,219.3 L263.8,218.0 L264.8,216.6 L265.8,215.2 L266.8,213.7 L267.7,212.2 L268.7,210.5 L269.7,208.8 L270.7,207.0 L271.6,205.2 L272.5,203.3 L273.4,201.3 L274.4,199.2 L275.3,196.9 L276.2,194.5 L277.0,192.1 L277.9,189.5 L278.7,186.8 L279.6,183.8 L280.4,180.7 L281.2,177.4 L282.0,173.8 L282.9,170.0 L283.7,166.2 L284.5,162.6 L285.5,162.6 L286.5,162.6 L287.4,162.6 L288.4,162.6 L289.4,162.6 L290.4,162.6 L291.3,162.6 L292.3,162.6 L293.3,162.6 L294.3,162.6 L295.2,162.6 L296.2,162.6 L297.2,162.6 L298.2,162.6 L299.1,162.6 L300.1,162.6 L301.1,162.6 L302.1,162.6 L303.0,162.6 L304.0,162.6 L305.0,162.6 L306.0,162.6 L307.0,162.6 L308.0,162.6 L309.0,162.6 L310.0,162.6 L311.0,162.6 L312.0,162.6 L313.0,162.7 L314.0,162.7 L315.0,162.8 L316.0,162.8 L317.0,162.9 L318.0,162.9 L318.9,162.9 L319.8,163.0 L320.7,163.1 L321.6,163.1 L322.5,163.2 L323.4,163.3 L324.3,163.3 L325.2,163.4 L326.1,163.5 L327.0,163.6 L328.0,163.7 L328.9,163.8 L329.9,163.9 L330.8,164.0 L331.7,164.2 L332.7,164.3 L333.6,164.4 L334.6,164.6 L335.5,164.7 L336.4,164.9 L337.4,165.1 L338.3,165.2 L339.3,165.4 L340.2,165.6 L341.1,165.8 L342.1,166.0 L343.0,166.2 L344.0,166.5 L344.9,166.8 L345.9,167.0 L346.8,167.3 L347.7,167.7 L348.7,168.0 L349.6,168.3 L350.6,168.7 L351.5,169.1 L352.5,169.6 L353.5,170.1 L354.5,170.7 L355.5,171.4 L356.5,172.0 L357.5,172.7 L358.5,173.4 L359.4,174.0 L360.4,174.7 L361.3,175.3 L362.2,176.0 L363.1,176.7 L364.1,177.5 L365.0,178.3 L365.9,179.1 L366.7,180.1 L367.6,181.1 L368.4,182.2 L369.3,183.5 L370.2,185.1 L371.2,186.9 L372.1,189.0 L373.0,191.2 L374.0,193.5 L374.9,195.9 L375.7,198.1 L376.5,200.5 L377.4,203.1 L378.2,205.7 L379.0,208.3 L379.8,211.0 L380.6,213.8 L381.5,216.6 L382.3,219.4 L383.1,222.2 L384.0,225.2 L384.9,228.2 L385.8,231.2 L386.7,234.2 L387.7,234.2 L388.6,234.2 L389.6,234.2 L390.6,234.2 L391.5,234.2 L392.5,234.2 L393.5,234.2 L394.4,234.2 L395.4,234.2 L396.4,234.2 L397.3,234.2 L398.3,234.2 L399.2,234.2 L400.2,234.2 L401.2,234.2 L402.1,234.2 L403.1,234.2 L404.1,234.2 L405.0,234.2 L406.0,234.2 L407.0,234.1 L407.9,233.9 L408.9,233.5 L409.9,233.0 L410.9,232.4 L411.8,231.8 L412.8,231.2 L413.8,230.6 L414.7,230.0 L415.7,229.5" stroke="#D95319"/>
<path d="M51.4,164.8 L52.2,165.8 L53.0,166.7 L53.9,167.7 L54.7,168.7 L55.5,169.7 L56.4,171.0 L57.3,172.3 L58.2,173.7 L59.2,175.1 L60.1,176.5 L61.0,178.0 L61.9,179.5 L62.9,181.1 L63.8,182.6 L64.7,184.2 L65.7,185.9 L66.6,187.6 L67.5,189.3 L68.4,191.1 L69.3,193.0 L70.3,194.8 L71.2,196.8 L72.1,198.7 L73.0,200.7 L73.9,202.7 L74.8,204.8 L75.8,206.9 L76.7,209.0 L77.6,211.1 L78.5,213.2 L79.4,215.2 L80.3,217.3 L81.3,219.4 L82.2,221.5 L83.1,223.5 L84.1,225.7 L85.1,227.8 L86.0,229.9 L87.0,232.1 L88.0,234.2 L89.0,234.2 L90.0,234.2 L91.0,234.2 L92.0,234.2 L93.0,234.2 L94.0,234.2 L95.0,234.2 L96.0,234.2 L97.0,234.2 L98.0,234.2 L99.0,234.2 L100.0,234.2 L101.0,234.2 L102.0,234.2 L103.0,234.2 L104.0,234.2 L105.0,234.2 L106.0,234.2 L107.0,234.2 L108.0,234.2 L109.0,234.2 L110.0,234.2 L111.0,234.2 L112.0,234.2 L113.0,234.2 L114.0,234.2 L115.0,234.2 L116.0,234.2 L117.0,234.2 L118.0,234.2 L119.0,234.2 L120.0,234.2 L121.0,234.2 L122.0,234.2 L123.0,234.2 L124.0,234.2 L125.0,234.2 L126.0,234.1 L126.9,233.9 L127.8,233.6 L128.8,233.2 L129.8,232.6 L130.7,232.0 L131.7,231.4 L132.6,230.6 L133.6,229.9 L134.5,229.1 L135.5,228.1 L136.5,226.8 L137.5,225.3 L138.4,223.5 L139.4,221.7 L140.4,219.8 L141.4,218.0 L142.4,216.2 L143.3,214.3 L144.3,212.3 L145.2,210.3 L146.2,208.2 L147.1,206.0 L148.1,203.8 L149.0,201.6 L150.0,199.4 L151.0,197.1 L152.0,194.7 L153.0,192.2 L153.9,189.7 L154.9,187.2 L155.9,184.7 L156.9,182.1 L157.9,179.4 L158.9,176.5 L159.9,173.5 L160.8,170.6 L161.8,167.9 L162.8,165.5 L163.8,163.5 L164.5,162.6 L165.5,162.6 L166.5,162.6 L167.5,162.6 L168.4,162.6 L169.4,162.6 L170.4,162.6 L171.4,162.6 L172.4,162.6 L173.4,162.6 L174.4,162.6 L175.3,162.6 L176.3,162.6 L177.3,162.6 L178.3,162.6 L179.3,162.6 L180.3,162.6 L181.3,162.6 L182.2,162.6 L183.2,162.6 L184.2,162.6 L185.2,162.6 L186.2,162.6 L187.2,162.6 L188.2,162.6 L189.2,162.6 L190.1,162.6 L191.1,162.6 L192.1,162.6 L193.1,162.6 L194.1,162.6 L195.1,162.6 L196.1,162.6 L197.0,162.6 L198.0,162.6 L199.0,162.6 L200.0,162.6 L201.0,162.6 L202.0,162.6 L203.0,162.6 L204.0,162.6 L205.0,162.6 L206.0,162.6 L207.0,162.7 L208.0,163.1 L209.0,163.6 L210.0,164.2 L211.0,164.8 L212.0,165.5 L213.0,166.2 L214.0,167.0 L215.0,167.9 L216.0,168.9 L217.0,170.0 L218.0,171.2 L219.0,172.5 L220.0,174.0 L221.0,175.5 L222.0,177.1 L223.0,178.7 L224.0,180.5 L225.0,182.4 L226.0,184.4 L227.0,186.4 L228.0,188.6 L229.0,190.7 L230.0,193.0 L231.0,195.2 L232.0,197.5 L233.0,199.8 L234.0,202.0 L235.0,204.3 L236.0,206.5 L237.0,208.6 L237.9,210.7 L238.9,212.8 L239.8,215.0 L240.8,217.1 L241.8,219.2 L242.7,221.4 L243.7,223.5 L244.7,225.7 L245.6,227.8 L246.6,229.9 L247.5,232.1 L248.5,234.2 L249.5,234.2 L250.5,234.2 L251.5,234.2 L252.4,234.2 L253.4,234.2 L254.4,234.2 L255.4,234.2 L256.4,234.2 L257.4,234.2 L258.4,234.2 L259.4,234.2 L260.4,234.2 L261.3,234.2 L262.3,234.2 L263.3,234.2 L264.3,234.2 L265.3,234.2 L266.3,234.2 L267.3,234.2 L268.2,234.2 L269.2,234.2 L270.2,234.2 L271.2,234.2 L272.2,234.2 L273.2,234.2 L274.2,234.2 L275.2,234.2 L276.1,234.2 L277.1,234.2 L278.1,234.2 L279.1,234.2 L280.1,234.2 L281.1,234.2 L282.1,234.2 L283.1,234.2 L284.1,234.2 L285.0,234.2 L286.0,234.2 L287.0,234.2 L288.0,234.2 L288.9,234.1 L289.9,233.8 L290.9,233.3 L291.8,232.7 L292.8,232.0 L293.7,231.2 L294.7,230.3 L295.6,229.5 L296.5,228.6 L297.4,227.5 L298.2,226.3 L299.1,224.9 L300.0,223.5 L301.0,221.8 L302.0,219.8 L303.0,217.7 L303.9,215.5 L304.9,213.2 L305.9,210.9 L306.9,208.5 L307.9,206.1 L308.9,203.6 L309.9,201.0 L310.8,198.3 L311.8,195.7 L312.8,193.0 L313.8,190.4 L314.8,187.8 L315.8,185.2 L316.8,182.6 L317.7,180.0 L318.7,177.4 L319.7,174.9 L320.7,172.4 L321.5,170.4 L322.4,168.4 L323.2,166.4 L324.1,164.5 L324.9,162.6 L325.9,162.6 L326.8,162.6 L327.8,162.6 L328.8,162.6 L329.8,162.6 L330.8,162.6 L331.7,162.6 L332.7,162.6 L333.7,162.6 L334.6,162.6 L335.6,162.6 L336.6,162.6 L337.6,162.6 L338.6,162.6 L339.5,162.6 L340.5,162.6 L341.5,162.6 L342.4,162.6 L343.4,162.6 L344.4,162.6 L345.4,162.6 L346.3,162.6 L347.3,162.6 L348.3,162.6 L349.3,162.6 L350.2,162.6 L351.2,162.6 L352.2,162.6 L353.2,162.6 L354.1,162.6 L355.1,162.6 L356.1,162.6 L357.1,162.6 L358.1,162.6 L359.0,162.6 L360.0,162.6 L361.0,162.6 L362.0,162.6 L363.0,162.6 L364.0,162.6 L364.9,162.6 L365.9,162.7 L366.9,162.8 L367.8,163.0 L368.8,163.2 L369.7,163.5 L370.6,163.8 L371.6,164.1 L372.6,164.4 L373.5,164.8 L374.4,165.3 L375.3,166.1 L376.2,167.0 L377.2,168.1 L378.1,169.2 L379.0,170.4 L379.9,171.6 L380.8,173.0 L381.8,174.5 L382.7,176.1 L383.6,177.7 L384.5,179.3 L385.4,181.0 L386.4,182.8 L387.3,184.7 L388.2,186.6 L389.2,188.5 L390.1,190.4 L391.0,192.2 L391.9,194.0 L392.9,195.9 L393.8,197.7 L394.7,199.6 L395.6,201.4 L396.5,203.2 L397.4,205.0 L398.2,206.7 L399.1,208.6 L400.0,210.4 L401.0,212.5 L401.9,214.6 L402.9,216.7 L403.9,218.9 L404.8,221.0 L405.8,223.2 L406.7,225.4 L407.7,227.6 L408.7,229.8 L409.6,232.0 L410.6,234.2 L411.5,234.2 L412.3,234.2 L413.1,234.2 L414.0,234.2 L414.9,234.2 L415.7,234.2" stroke="#EDB120"/>
<path d="M51.4,184.2 L52.2,183.5 L53.0,182.9 L53.9,182.3 L54.7,181.5 L55.5,180.7 L56.3,179.7 L57.2,178.4 L58.0,177.0 L58.9,175.5 L59.7,173.8 L60.6,171.8 L61.5,169.4 L62.4,166.9 L63.1,164.8 L63.8,162.6 L64.8,162.6 L65.8,162.6 L66.8,162.6 L67.8,162.6 L68.8,162.6 L69.8,162.6 L70.8,162.6 L71.8,162.6 L72.8,162.6 L73.8,162.6 L74.8,162.6 L75.8,162.6 L76.8,162.6 L77.8,162.6 L78.8,162.6 L79.8,162.6 L80.8,162.6 L81.8,162.6 L82.8,162.6 L83.8,162.6 L84.7,162.7 L85.6,163.2 L86.5,163.9 L87.3,164.8 L88.2,165.8 L89.1,166.9 L90.0,167.9 L91.0,169.1 L92.0,170.5 L93.0,172.0 L94.0,173.5 L95.0,175.0 L96.0,176.4 L97.0,177.7 L98.0,179.0 L99.0,180.4 L100.0,181.8 L101.0,183.2 L102.0,184.7 L103.0,186.2 L103.9,187.7 L104.9,189.2 L105.9,190.8 L106.9,192.3 L107.9,193.8 L108.9,195.4 L109.9,196.9 L110.8,198.5 L111.8,200.0 L112.8,201.7 L113.8,203.3 L114.6,204.7 L115.5,206.2 L116.3,207.6 L117.2,209.2 L118.0,210.8 L118.8,212.5 L119.6,214.3 L120.5,216.3 L121.3,218.2 L122.1,220.2 L123.0,222.4 L123.9,224.8 L124.8,227.1 L125.8,229.5 L126.7,231.8 L127.6,234.2 L128.6,234.2 L129.5,234.2 L130.5,234.2 L131.4,234.2 L132.4,234.2 L133.4,234.2 L134.3,234.2 L135.3,234.2 L136.2,234.2 L137.2,234.2 L138.2,234.2 L139.1,234.2 L140.1,234.2 L141.0,234.2 L142.0,234.2 L143.0,234.2 L144.0,234.1 L145.0,233.9 L146.0,233.7 L147.0,233.4 L148.0,233.1 L149.0,232.8 L150.0,232.5 L151.0,232.1 L152.0,231.5 L153.0,230.9 L153.9,230.1 L154.9,229.3 L155.9,228.5 L156.9,227.7 L157.9,226.9 L158.9,226.1 L159.9,225.2 L160.8,224.3 L161.8,223.4 L162.8,222.5 L163.8,221.7 L164.8,220.9 L165.8,220.1 L166.8,219.3 L167.7,218.5 L168.7,217.7 L169.7,216.9 L170.7,216.1 L171.7,215.3 L172.7,214.5 L173.7,213.7 L174.6,212.8 L175.6,212.0 L176.6,211.2 L177.6,210.4 L178.6,209.6 L179.6,208.8 L180.6,207.9 L181.5,207.1 L182.5,206.3 L183.5,205.5 L184.5,204.7 L185.5,203.9 L186.5,203.1 L187.5,202.3 L188.4,201.5 L189.4,200.7 L190.4,200.0 L191.4,199.2 L192.4,198.5 L193.3,197.8 L194.3,197.1 L195.2,196.4 L196.2,195.7 L197.1,195.0 L198.1,194.3 L199.0,193.6 L200.0,192.9 L201.0,192.2 L202.0,191.4 L203.0,190.7 L203.9,189.9 L204.9,189.1 L205.9,188.4 L206.9,187.6 L207.9,186.8 L208.9,186.1 L209.9,185.3 L210.8,184.6 L211.8,183.8 L212.8,183.0 L213.8,182.1 L214.7,181.3 L215.6,180.5 L216.6,179.7 L217.5,178.8 L218.4,177.8 L219.3,176.6 L220.2,175.3 L221.1,173.7 L221.9,171.8 L222.8,169.7 L223.5,167.6 L224.2,165.0 L224.9,162.6 L225.9,162.6 L226.8,162.6 L227.8,162.6 L228.8,162.6 L229.7,162.6 L230.7,162.6 L231.7,162.6 L232.6,162.6 L233.6,162.6 L234.6,162.6 L235.5,162.6 L236.5,162.6 L237.4,162.6 L238.4,162.6 L239.4,162.6 L240.3,162.6 L241.3,162.6 L242.3,162.6 L243.2,162.6 L244.2,162.6 L245.2,162.7 L246.1,163.2 L247.1,164.0 L248.1,164.9 L249.0,165.9 L250.0,166.9 L251.0,168.0 L252.0,169.2 L253.0,170.6 L253.9,172.1 L254.9,173.6 L255.9,175.2 L256.9,176.6 L257.9,178.0 L258.9,179.4 L259.9,180.8 L260.8,182.2 L261.8,183.6 L262.8,185.0 L263.8,186.5 L264.8,188.0 L265.8,189.5 L266.8,191.1 L267.7,192.7 L268.7,194.3 L269.7,195.9 L270.7,197.5 L271.7,199.1 L272.7,200.8 L273.7,202.5 L274.6,204.2 L275.6,205.9 L276.6,207.7 L277.6,209.5 L278.6,211.3 L279.6,213.2 L280.6,215.0 L281.5,217.0 L282.5,218.9 L283.5,220.9 L284.5,223.0 L285.5,225.1 L286.4,227.3 L287.4,229.6 L288.3,231.9 L289.3,234.2 L290.3,234.2 L291.3,234.2 L292.2,234.2 L293.2,234.2 L294.2,234.2 L295.2,234.2 L296.2,234.2 L297.1,234.2 L298.1,234.2 L299.1,234.2 L300.1,234.2 L301.1,234.2 L302.1,234.2 L303.0,234.2 L304.0,234.2 L305.0,234.2 L306.0,234.1 L307.0,233.9 L308.0,233.6 L309.0,233.3 L310.0,232.9 L311.0,232.5 L312.0,232.1 L313.0,231.8 L314.0,231.4 L315.0,231.0 L316.0,230.6 L317.0,230.2 L318.0,229.8 L319.0,229.3 L319.9,228.9 L320.8,228.4 L321.7,227.9 L322.6,227.4 L323.4,226.9 L324.3,226.3 L325.2,225.7 L326.1,225.1 L327.1,224.4 L328.1,223.6 L329.1,222.7 L330.0,221.8 L331.0,220.9 L332.0,220.0 L333.0,219.1 L333.9,218.3 L334.8,217.5 L335.7,216.7 L336.6,215.8 L337.5,215.0 L338.4,214.1 L339.3,213.3 L340.2,212.4 L341.2,211.4 L342.1,210.4 L343.1,209.4 L344.1,208.4 L345.1,207.4 L346.0,206.4 L347.0,205.4 L347.9,204.5 L348.8,203.6 L349.7,202.6 L350.6,201.7 L351.6,200.8 L352.5,199.9 L353.4,199.1 L354.3,198.3 L355.3,197.5 L356.2,196.7 L357.2,196.0 L358.2,195.3 L359.2,194.6 L360.1,193.9 L361.1,193.3 L362.1,192.6 L363.1,191.9 L364.0,191.2 L365.0,190.5 L365.9,189.8 L366.9,189.1 L367.9,188.4 L368.8,187.7 L369.8,186.9 L370.7,186.2 L371.7,185.5 L372.7,184.7 L373.7,184.0 L374.6,183.3 L375.6,182.5 L376.6,181.6 L377.6,180.7 L378.5,179.8 L379.4,178.9 L380.4,177.9 L381.3,176.7 L382.2,175.4 L383.1,173.8 L384.0,171.6 L384.9,168.7 L385.7,165.5 L386.6,162.6 L387.6,162.6 L388.6,162.6 L389.5,162.6 L390.5,162.6 L391.5,162.6 L392.5,162.6 L393.5,162.6 L394.4,162.6 L395.4,162.6 L396.4,162.6 L397.4,162.6 L398.4,162.6 L399.4,162.6 L400.3,162.6 L401.3,162.6 L402.3,162.6 L403.3,162.6 L404.3,162.6 L405.2,162.6 L406.2,162.6 L407.2,162.6 L408.1,162.8 L408.9,163.2 L409.8,163.9 L410.6,164.7 L411.4,165.6 L412.3,166.5 L413.1,167.7 L414.0,169.2 L414.9,170.9 L415.7,172.5" stroke="#7E2F8E"/>
<path d="M51.4,181.4 L52.3,178.3 L53.2,175.2 L54.1,172.4 L54.9,170.2 L55.8,168.2 L56.6,166.3 L57.5,164.4 L58.3,162.6 L59.3,162.6 L60.3,162.6 L61.3,162.6 L62.3,162.6 L63.3,162.6 L64.3,162.6 L65.2,162.6 L66.2,162.6 L67.2,162.6 L68.2,162.6 L69.2,162.6 L70.2,162.6 L71.2,162.6 L72.2,162.6 L73.2,162.6 L74.2,162.6 L75.2,162.6 L76.2,162.6 L77.2,162.6 L78.2,162.6 L79.2,162.6 L80.1,162.6 L81.1,162.6 L82.1,162.6 L83.1,162.6 L84.1,162.6 L85.1,162.6 L86.1,162.6 L87.1,162.6 L88.1,162.6 L89.1,162.6 L90.1,162.6 L91.1,162.6 L92.1,162.6 L93.0,162.6 L94.0,162.6 L95.0,162.6 L96.0,162.6 L97.0,162.6 L98.0,162.6 L99.0,162.6 L100.0,162.6 L101.0,162.6 L102.0,162.6 L103.0,162.6 L104.0,162.6 L105.0,162.6 L106.0,162.7 L107.0,162.7 L108.0,162.7 L109.0,162.8 L110.0,162.8 L111.0,162.8 L112.0,162.9 L113.0,163.0 L114.0,163.3 L115.0,163.6 L116.0,164.0 L117.0,164.4 L118.0,164.8 L118.9,165.3 L119.8,165.9 L120.8,166.7 L121.7,167.6 L122.6,168.6 L123.5,169.7 L124.3,170.9 L125.1,172.5 L126.0,174.3 L126.8,176.2 L127.6,178.0 L128.4,179.8 L129.3,181.7 L130.1,183.6 L131.0,185.6 L131.8,187.6 L132.6,189.7 L133.4,191.9 L134.3,194.2 L135.1,196.5 L135.9,198.7 L136.7,200.9 L137.6,203.1 L138.4,205.3 L139.3,207.5 L140.1,209.7 L140.9,211.9 L141.7,214.1 L142.6,216.3 L143.4,218.6 L144.2,220.8 L145.2,223.5 L146.1,226.1 L147.1,228.8 L148.0,231.5 L149.0,234.2 L150.0,234.2 L151.0,234.2 L152.0,234.2 L153.0,234.2 L154.0,234.2 L155.0,234.2 L156.0,234.2 L157.0,234.2 L158.0,234.2 L159.0,234.2 L160.0,234.2 L161.0,234.2 L162.0,234.2 L163.0,234.2 L164.0,234.2 L165.0,234.2 L166.0,234.2 L167.0,234.2 L168.0,234.2 L169.0,234.2 L170.0,234.2 L170.9,234.2 L171.9,234.1 L172.8,234.0 L173.8,233.9 L174.8,233.7 L175.7,233.6 L176.7,233.4 L177.6,233.2 L178.6,233.0 L179.6,232.8 L180.6,232.5 L181.5,232.2 L182.5,231.9 L183.5,231.5 L184.5,231.1 L185.5,230.6 L186.5,229.9 L187.5,229.2 L188.4,228.3 L189.4,227.3 L190.4,226.2 L191.4,225.0 L192.3,223.6 L193.2,221.9 L194.1,220.1 L195.0,218.3 L196.0,216.4 L197.0,214.5 L198.0,212.5 L199.0,210.6 L200.0,208.5 L200.9,206.5 L201.8,204.5 L202.8,202.4 L203.7,200.3 L204.6,198.2 L205.5,196.0 L206.4,193.8 L207.3,191.5 L208.2,189.2 L209.2,186.8 L210.1,184.5 L211.0,182.1 L211.8,179.9 L212.7,177.6 L213.5,175.3 L214.4,173.1 L215.2,171.0 L216.0,169.2 L216.8,167.5 L217.7,165.8 L218.5,164.2 L219.3,162.6 L220.3,162.6 L221.3,162.6 L222.3,162.6 L223.3,162.6 L224.3,162.6 L225.3,162.6 L226.3,162.6 L227.2,162.6 L228.2,162.6 L229.2,162.6 L230.2,162.6 L231.2,162.6 L232.2,162.6 L233.2,162.6 L234.2,162.6 L235.2,162.6 L236.2,162.6 L237.2,162.6 L238.2,162.6 L239.2,162.6 L240.2,162.6 L241.2,162.6 L242.2,162.6 L243.1,162.6 L244.1,162.6 L245.1,162.6 L246.1,162.6 L247.1,162.6 L248.1,162.6 L249.1,162.6 L250.1,162.6 L251.1,162.6 L252.1,162.6 L253.1,162.6 L254.1,162.6 L255.1,162.6 L256.1,162.6 L257.1,162.6 L258.0,162.6 L259.0,162.6 L260.0,162.6 L261.0,162.6 L262.0,162.6 L263.0,162.6 L264.0,162.6 L265.0,162.6 L266.0,162.6 L267.0,162.6 L268.0,162.6 L269.0,162.6 L270.0,162.7 L271.0,162.7 L272.0,162.8 L273.0,162.8 L274.0,162.8 L274.9,162.9 L275.9,163.1 L276.8,163.5 L277.7,163.9 L278.7,164.4 L279.6,165.0 L280.5,165.8 L281.5,167.0 L282.4,168.5 L283.3,170.1 L284.3,171.8 L285.2,173.4 L286.1,174.9 L287.1,176.5 L288.0,178.1 L288.9,179.7 L289.9,181.4 L290.8,183.2 L291.7,184.9 L292.6,186.7 L293.5,188.6 L294.4,190.5 L295.2,192.4 L296.1,194.4 L297.0,196.5 L297.9,198.7 L298.9,201.2 L299.9,204.0 L300.8,206.8 L301.8,209.7 L302.8,212.5 L303.8,215.2 L304.7,217.9 L305.6,220.6 L306.6,223.3 L307.6,226.0 L308.5,228.8 L309.4,231.5 L310.4,234.2 L311.4,234.2 L312.4,234.2 L313.3,234.2 L314.3,234.2 L315.3,234.2 L316.3,234.2 L317.3,234.2 L318.2,234.2 L319.2,234.2 L320.2,234.2 L321.2,234.2 L322.2,234.2 L323.1,234.2 L324.1,234.2 L325.1,234.2 L326.1,234.2 L327.1,234.2 L328.0,234.2 L329.0,234.2 L330.0,234.2 L330.9,234.2 L331.9,234.1 L332.8,234.0 L333.7,233.9 L334.6,233.7 L335.6,233.5 L336.5,233.3 L337.4,233.1 L338.3,232.8 L339.3,232.6 L340.2,232.3 L341.1,232.0 L342.1,231.6 L343.0,231.2 L344.0,230.7 L344.9,230.2 L345.9,229.6 L346.8,229.0 L347.7,228.3 L348.7,227.6 L349.6,226.9 L350.6,226.1 L351.5,225.3 L352.5,224.4 L353.5,223.4 L354.5,222.2 L355.5,221.0 L356.5,219.6 L357.5,218.2 L358.5,216.6 L359.4,214.9 L360.4,213.0 L361.3,210.8 L362.2,208.5 L363.1,206.1 L364.1,203.8 L365.0,201.5 L365.9,199.2 L366.9,196.9 L367.9,194.6 L368.8,192.3 L369.8,190.0 L370.7,187.6 L371.7,185.1 L372.7,182.6 L373.7,180.0 L374.6,177.4 L375.6,174.8 L376.6,172.3 L377.6,169.7 L378.5,167.3 L379.5,164.9 L380.4,162.6 L381.4,162.6 L382.4,162.6 L383.3,162.6 L384.3,162.6 L385.3,162.6 L386.3,162.6 L387.3,162.6 L388.2,162.6 L389.2,162.6 L390.2,162.6 L391.2,162.6 L392.2,162.6 L393.1,162.6 L394.1,162.6 L395.1,162.6 L396.1,162.6 L397.1,162.6 L398.0,162.6 L399.0,162.6 L400.0,162.6 L401.0,162.6 L402.0,162.6 L403.0,162.6 L403.9,162.6 L404.9,162.6 L405.9,162.6 L406.9,162.6 L407.9,162.6 L408.8,162.6 L409.8,162.6 L410.8,162.6 L411.8,162.6 L412.8,162.6 L413.7,162.6 L414.7,162.6 L415.7,162.6" stroke="#77AC30"/>
</g>
<rect x="51.30" y="148.30" width="364.30" height="85.90" fill="none" stroke="#999999" stroke-width="0.9"/>
<line x1="51.30" y1="234.20" x2="51.30" y2="230.60" stroke="#999999" stroke-width="0.9"/>
<line x1="51.30" y1="148.30" x2="51.30" y2="151.90" stroke="#999999" stroke-width="0.9"/>
<line x1="124.16" y1="234.20" x2="124.16" y2="230.60" stroke="#999999" stroke-width="0.9"/>
<line x1="124.16" y1="148.30" x2="124.16" y2="151.90" stroke="#999999" stroke-width="0.9"/>
<line x1="197.02" y1="234.20" x2="197.02" y2="230.60" stroke="#999999" stroke-width="0.9"/>
<line x1="197.02" y1="148.30" x2="197.02" y2="151.90" stroke="#999999" stroke-width="0.9"/>
<line x1="269.88" y1="234.20" x2="269.88" y2="230.60" stroke="#999999" stroke-width="0.9"/>
<line x1="269.88" y1="148.30" x2="269.88" y2="151.90" stroke="#999999" stroke-width="0.9"/>
<line x1="342.74" y1="234.20" x2="342.74" y2="230.60" stroke="#999999" stroke-width="0.9"/>
<line x1="342.74" y1="148.30" x2="342.74" y2="151.90" stroke="#999999" stroke-width="0.9"/>
<line x1="415.60" y1="234.20" x2="415.60" y2="230.60" stroke="#999999" stroke-width="0.9"/>
<line x1="415.60" y1="148.30" x2="415.60" y2="151.90" stroke="#999999" stroke-width="0.9"/>
<line x1="51.30" y1="234.20" x2="54.90" y2="234.20" stroke="#999999" stroke-width="0.9"/>
<line x1="415.60" y1="234.20" x2="412.00" y2="234.20" stroke="#999999" stroke-width="0.9"/>
<line x1="51.30" y1="198.41" x2="54.90" y2="198.41" stroke="#999999" stroke-width="0.9"/>
<line x1="415.60" y1="198.41" x2="412.00" y2="198.41" stroke="#999999" stroke-width="0.9"/>
<line x1="51.30" y1="162.62" x2="54.90" y2="162.62" stroke="#999999" stroke-width="0.9"/>
<line x1="415.60" y1="162.62" x2="412.00" y2="162.62" stroke="#999999" stroke-width="0.9"/>
<rect x="87.90" y="148.30" width="36.40" height="10.80" fill="#0000FF"/>
<text x="106.10" y="157.10" font-size="9.6" font-weight="bold" text-anchor="middle" fill="#fff">G1</text>
<rect x="124.30" y="148.30" width="39.40" height="10.80" fill="#FF0000"/>
<text x="144.00" y="157.10" font-size="9.6" font-weight="bold" text-anchor="middle" fill="#fff">S</text>
<rect x="163.70" y="148.30" width="57.70" height="10.80" fill="#FF8000"/>
<text x="192.55" y="157.10" font-size="9.6" font-weight="bold" text-anchor="middle" fill="#fff">G2</text>
<rect x="221.40" y="148.30" width="24.40" height="10.80" fill="#800080"/>
<text x="233.60" y="157.10" font-size="9.6" font-weight="bold" text-anchor="middle" fill="#fff">M</text>
<text x="51.30" y="248.20" font-size="10" text-anchor="middle" fill="#1e1e1e" stroke="#1e1e1e" stroke-width="0.4" >0</text>
<text x="124.16" y="248.20" font-size="10" text-anchor="middle" fill="#1e1e1e" stroke="#1e1e1e" stroke-width="0.4" >12</text>
<text x="197.02" y="248.20" font-size="10" text-anchor="middle" fill="#1e1e1e" stroke="#1e1e1e" stroke-width="0.4" >24</text>
<text x="269.88" y="248.20" font-size="10" text-anchor="middle" fill="#1e1e1e" stroke="#1e1e1e" stroke-width="0.4" >36</text>
<text x="342.74" y="248.20" font-size="10" text-anchor="middle" fill="#1e1e1e" stroke="#1e1e1e" stroke-width="0.4" >48</text>
<text x="415.60" y="248.20" font-size="10" text-anchor="middle" fill="#1e1e1e" stroke="#1e1e1e" stroke-width="0.4" >60</text>
<text x="47.10" y="237.60" font-size="10" text-anchor="end" fill="#1e1e1e" stroke="#1e1e1e" stroke-width="0.4" >0</text>
<text x="47.10" y="201.81" font-size="10" text-anchor="end" fill="#1e1e1e" stroke="#1e1e1e" stroke-width="0.4" >0.5</text>
<text x="47.10" y="166.02" font-size="10" text-anchor="end" fill="#1e1e1e" stroke="#1e1e1e" stroke-width="0.4" >1</text>
<text x="233.45" y="262.00" font-size="11.5" text-anchor="middle" fill="#1e1e1e" stroke="#1e1e1e" stroke-width="0.4" >Time (h)</text>
<text transform="translate(28.80,191.25) rotate(-90)" x="0" y="0" font-size="11.5" text-anchor="middle" fill="#1e1e1e" stroke="#1e1e1e" stroke-width="0.4">Concentration</text>
<text x="6.00" y="147.30" font-size="14" text-anchor="start" fill="#000" stroke="#000" stroke-width="0.25" >B</text>
<text x="410.60" y="156.70" font-size="8" text-anchor="end" fill="#666666" stroke="#666666" stroke-width="0.1" >v2e2f=0.56</text>
<rect x="354.4" y="20.2" width="56.10000000000002" height="59.099999999999994" fill="#fff" stroke="#999999" stroke-width="0.9"/>
<line x1="357.8" y1="27.60" x2="377.4" y2="27.60" stroke="#0072BD" stroke-width="1.75"/>
<text x="379.80" y="31.00" font-size="9.4" text-anchor="start" fill="#000" stroke="#000" stroke-width="0.4" >E2F</text>
<line x1="357.8" y1="38.95" x2="377.4" y2="38.95" stroke="#D95319" stroke-width="1.75"/>
<text x="379.80" y="42.35" font-size="9.4" text-anchor="start" fill="#000" stroke="#000" stroke-width="0.4" >Me</text>
<line x1="357.8" y1="50.30" x2="377.4" y2="50.30" stroke="#EDB120" stroke-width="1.75"/>
<text x="379.80" y="53.70" font-size="9.4" text-anchor="start" fill="#000" stroke="#000" stroke-width="0.4" >Ma</text>
<line x1="357.8" y1="61.65" x2="377.4" y2="61.65" stroke="#7E2F8E" stroke-width="1.75"/>
<text x="379.80" y="65.05" font-size="9.4" text-anchor="start" fill="#000" stroke="#000" stroke-width="0.4" >Mb</text>
<line x1="357.8" y1="73.00" x2="377.4" y2="73.00" stroke="#77AC30" stroke-width="1.75"/>
<text x="379.80" y="76.40" font-size="9.4" text-anchor="start" fill="#000" stroke="#000" stroke-width="0.4" >Cdc20</text>
<rect x="51.50" y="280.10" width="364.10" height="86.70" fill="none" stroke="#999999" stroke-width="0.9"/>
<line x1="65.50" y1="366.80" x2="65.50" y2="363.20" stroke="#999999" stroke-width="0.9"/>
<line x1="65.50" y1="280.10" x2="65.50" y2="283.70" stroke="#999999" stroke-width="0.9"/>
<line x1="79.51" y1="366.80" x2="79.51" y2="363.20" stroke="#999999" stroke-width="0.9"/>
<line x1="79.51" y1="280.10" x2="79.51" y2="283.70" stroke="#999999" stroke-width="0.9"/>
<line x1="93.51" y1="366.80" x2="93.51" y2="363.20" stroke="#999999" stroke-width="0.9"/>
<line x1="93.51" y1="280.10" x2="93.51" y2="283.70" stroke="#999999" stroke-width="0.9"/>
<line x1="107.52" y1="366.80" x2="107.52" y2="363.20" stroke="#999999" stroke-width="0.9"/>
<line x1="107.52" y1="280.10" x2="107.52" y2="283.70" stroke="#999999" stroke-width="0.9"/>
<line x1="121.52" y1="366.80" x2="121.52" y2="363.20" stroke="#999999" stroke-width="0.9"/>
<line x1="121.52" y1="280.10" x2="121.52" y2="283.70" stroke="#999999" stroke-width="0.9"/>
<line x1="135.52" y1="366.80" x2="135.52" y2="363.20" stroke="#999999" stroke-width="0.9"/>
<line x1="135.52" y1="280.10" x2="135.52" y2="283.70" stroke="#999999" stroke-width="0.9"/>
<line x1="149.53" y1="366.80" x2="149.53" y2="363.20" stroke="#999999" stroke-width="0.9"/>
<line x1="149.53" y1="280.10" x2="149.53" y2="283.70" stroke="#999999" stroke-width="0.9"/>
<line x1="163.53" y1="366.80" x2="163.53" y2="363.20" stroke="#999999" stroke-width="0.9"/>
<line x1="163.53" y1="280.10" x2="163.53" y2="283.70" stroke="#999999" stroke-width="0.9"/>
<line x1="177.53" y1="366.80" x2="177.53" y2="363.20" stroke="#999999" stroke-width="0.9"/>
<line x1="177.53" y1="280.10" x2="177.53" y2="283.70" stroke="#999999" stroke-width="0.9"/>
<line x1="191.54" y1="366.80" x2="191.54" y2="363.20" stroke="#999999" stroke-width="0.9"/>
<line x1="191.54" y1="280.10" x2="191.54" y2="283.70" stroke="#999999" stroke-width="0.9"/>
<line x1="205.54" y1="366.80" x2="205.54" y2="363.20" stroke="#999999" stroke-width="0.9"/>
<line x1="205.54" y1="280.10" x2="205.54" y2="283.70" stroke="#999999" stroke-width="0.9"/>
<line x1="219.55" y1="366.80" x2="219.55" y2="363.20" stroke="#999999" stroke-width="0.9"/>
<line x1="219.55" y1="280.10" x2="219.55" y2="283.70" stroke="#999999" stroke-width="0.9"/>
<line x1="233.55" y1="366.80" x2="233.55" y2="363.20" stroke="#999999" stroke-width="0.9"/>
<line x1="233.55" y1="280.10" x2="233.55" y2="283.70" stroke="#999999" stroke-width="0.9"/>
<line x1="247.55" y1="366.80" x2="247.55" y2="363.20" stroke="#999999" stroke-width="0.9"/>
<line x1="247.55" y1="280.10" x2="247.55" y2="283.70" stroke="#999999" stroke-width="0.9"/>
<line x1="261.56" y1="366.80" x2="261.56" y2="363.20" stroke="#999999" stroke-width="0.9"/>
<line x1="261.56" y1="280.10" x2="261.56" y2="283.70" stroke="#999999" stroke-width="0.9"/>
<line x1="275.56" y1="366.80" x2="275.56" y2="363.20" stroke="#999999" stroke-width="0.9"/>
<line x1="275.56" y1="280.10" x2="275.56" y2="283.70" stroke="#999999" stroke-width="0.9"/>
<line x1="289.57" y1="366.80" x2="289.57" y2="363.20" stroke="#999999" stroke-width="0.9"/>
<line x1="289.57" y1="280.10" x2="289.57" y2="283.70" stroke="#999999" stroke-width="0.9"/>
<line x1="303.57" y1="366.80" x2="303.57" y2="363.20" stroke="#999999" stroke-width="0.9"/>
<line x1="303.57" y1="280.10" x2="303.57" y2="283.70" stroke="#999999" stroke-width="0.9"/>
<line x1="317.57" y1="366.80" x2="317.57" y2="363.20" stroke="#999999" stroke-width="0.9"/>
<line x1="317.57" y1="280.10" x2="317.57" y2="283.70" stroke="#999999" stroke-width="0.9"/>
<line x1="331.58" y1="366.80" x2="331.58" y2="363.20" stroke="#999999" stroke-width="0.9"/>
<line x1="331.58" y1="280.10" x2="331.58" y2="283.70" stroke="#999999" stroke-width="0.9"/>
<line x1="345.58" y1="366.80" x2="345.58" y2="363.20" stroke="#999999" stroke-width="0.9"/>
<line x1="345.58" y1="280.10" x2="345.58" y2="283.70" stroke="#999999" stroke-width="0.9"/>
<line x1="359.58" y1="366.80" x2="359.58" y2="363.20" stroke="#999999" stroke-width="0.9"/>
<line x1="359.58" y1="280.10" x2="359.58" y2="283.70" stroke="#999999" stroke-width="0.9"/>
<line x1="373.59" y1="366.80" x2="373.59" y2="363.20" stroke="#999999" stroke-width="0.9"/>
<line x1="373.59" y1="280.10" x2="373.59" y2="283.70" stroke="#999999" stroke-width="0.9"/>
<line x1="387.59" y1="366.80" x2="387.59" y2="363.20" stroke="#999999" stroke-width="0.9"/>
<line x1="387.59" y1="280.10" x2="387.59" y2="283.70" stroke="#999999" stroke-width="0.9"/>
<line x1="401.60" y1="366.80" x2="401.60" y2="363.20" stroke="#999999" stroke-width="0.9"/>
<line x1="401.60" y1="280.10" x2="401.60" y2="283.70" stroke="#999999" stroke-width="0.9"/>
<line x1="51.50" y1="366.80" x2="55.10" y2="366.80" stroke="#999999" stroke-width="0.9"/>
<line x1="415.60" y1="366.80" x2="412.00" y2="366.80" stroke="#999999" stroke-width="0.9"/>
<line x1="51.50" y1="323.45" x2="55.10" y2="323.45" stroke="#999999" stroke-width="0.9"/>
<line x1="415.60" y1="323.45" x2="412.00" y2="323.45" stroke="#999999" stroke-width="0.9"/>
<line x1="51.50" y1="280.10" x2="55.10" y2="280.10" stroke="#999999" stroke-width="0.9"/>
<line x1="415.60" y1="280.10" x2="412.00" y2="280.10" stroke="#999999" stroke-width="0.9"/>
<clipPath id="clipC"><rect x="51.5" y="280.1" width="364.1" height="86.69999999999999"/></clipPath>
<g clip-path="url(#clipC)">
<line x1="51.5" y1="323.45" x2="415.6" y2="323.45" stroke="#555555" stroke-width="0.7"/>
<rect x="59.90" y="319.03" width="11.20" height="4.42" fill="#0072BD" stroke="#1b1b1b" stroke-width="0.5"/>
<rect x="73.91" y="323.45" width="11.20" height="0.78" fill="#0072BD" stroke="#1b1b1b" stroke-width="0.5"/>
<rect x="87.91" y="312.87" width="11.20" height="10.58" fill="#0072BD" stroke="#1b1b1b" stroke-width="0.5"/>
<rect x="101.91" y="322.15" width="11.20" height="1.30" fill="#0072BD" stroke="#1b1b1b" stroke-width="0.5"/>
<rect x="115.92" y="288.34" width="11.20" height="35.11" fill="#0072BD" stroke="#1b1b1b" stroke-width="0.5"/>
<rect x="129.92" y="323.45" width="11.20" height="1.30" fill="#0072BD" stroke="#1b1b1b" stroke-width="0.5"/>
<rect x="143.93" y="323.45" width="11.20" height="37.19" fill="#0072BD" stroke="#1b1b1b" stroke-width="0.5"/>
<rect x="157.93" y="323.45" width="11.20" height="0.43" fill="#0072BD" stroke="#1b1b1b" stroke-width="0.5"/>
<rect x="171.93" y="300.91" width="11.20" height="22.54" fill="#0072BD" stroke="#1b1b1b" stroke-width="0.5"/>
<rect x="185.94" y="323.45" width="11.20" height="1.47" fill="#0072BD" stroke="#1b1b1b" stroke-width="0.5"/>
<rect x="199.94" y="323.45" width="11.20" height="36.41" fill="#0072BD" stroke="#1b1b1b" stroke-width="0.5"/>
<rect x="213.94" y="323.45" width="11.20" height="0.30" fill="#0072BD" stroke="#1b1b1b" stroke-width="0.5"/>
<rect x="227.95" y="323.45" width="11.20" height="35.55" fill="#0072BD" stroke="#1b1b1b" stroke-width="0.5"/>
<rect x="241.95" y="323.45" width="11.20" height="0.30" fill="#0072BD" stroke="#1b1b1b" stroke-width="0.5"/>
<rect x="255.96" y="323.45" width="11.20" height="20.37" fill="#0072BD" stroke="#1b1b1b" stroke-width="0.5"/>
<rect x="269.96" y="323.45" width="11.20" height="0.30" fill="#0072BD" stroke="#1b1b1b" stroke-width="0.5"/>
<rect x="283.96" y="323.45" width="11.20" height="12.40" fill="#0072BD" stroke="#1b1b1b" stroke-width="0.5"/>
<rect x="297.97" y="323.45" width="11.20" height="0.43" fill="#0072BD" stroke="#1b1b1b" stroke-width="0.5"/>
<rect x="311.97" y="323.45" width="11.20" height="28.70" fill="#0072BD" stroke="#1b1b1b" stroke-width="0.5"/>
<rect x="325.98" y="323.45" width="11.20" height="0.30" fill="#0072BD" stroke="#1b1b1b" stroke-width="0.5"/>
<rect x="339.98" y="323.45" width="11.20" height="7.54" fill="#0072BD" stroke="#1b1b1b" stroke-width="0.5"/>
<rect x="353.98" y="323.45" width="11.20" height="0.30" fill="#0072BD" stroke="#1b1b1b" stroke-width="0.5"/>
<rect x="367.99" y="323.45" width="11.20" height="11.62" fill="#0072BD" stroke="#1b1b1b" stroke-width="0.5"/>
<rect x="381.99" y="323.45" width="11.20" height="0.30" fill="#0072BD" stroke="#1b1b1b" stroke-width="0.5"/>
<rect x="395.99" y="323.45" width="11.20" height="10.92" fill="#0072BD" stroke="#1b1b1b" stroke-width="0.5"/>
</g>
<text x="48.00" y="369.80" font-size="8.8" text-anchor="end" fill="#1e1e1e" stroke="#1e1e1e" stroke-width="0.2" >-5</text>
<text x="48.00" y="326.45" font-size="8.8" text-anchor="end" fill="#1e1e1e" stroke="#1e1e1e" stroke-width="0.2" >0</text>
<text x="48.00" y="283.10" font-size="8.8" text-anchor="end" fill="#1e1e1e" stroke="#1e1e1e" stroke-width="0.2" >5</text>
<text transform="translate(70.50,377.30) rotate(-45)" font-size="8" text-anchor="end" fill="#383838" stroke="#383838" stroke-width="0.1">vsd</text>
<text transform="translate(84.51,377.30) rotate(-45)" font-size="8" text-anchor="end" fill="#383838" stroke="#383838" stroke-width="0.1">Kgf</text>
<text transform="translate(98.51,377.30) rotate(-45)" font-size="8" text-anchor="end" fill="#383838" stroke="#383838" stroke-width="0.1">vdd</text>
<text transform="translate(112.52,377.30) rotate(-45)" font-size="8" text-anchor="end" fill="#383838" stroke="#383838" stroke-width="0.1">Kdd</text>
<text transform="translate(126.52,377.30) rotate(-45)" font-size="8" text-anchor="end" fill="#383838" stroke="#383838" stroke-width="0.1">V1e2f</text>
<text transform="translate(140.52,377.30) rotate(-45)" font-size="8" text-anchor="end" fill="#383838" stroke="#383838" stroke-width="0.1">K1e2f</text>
<text transform="translate(154.53,377.30) rotate(-45)" font-size="8" text-anchor="end" fill="#383838" stroke="#383838" stroke-width="0.1">V2e2f</text>
<text transform="translate(168.53,377.30) rotate(-45)" font-size="8" text-anchor="end" fill="#383838" stroke="#383838" stroke-width="0.1">K2e2f</text>
<text transform="translate(182.53,377.30) rotate(-45)" font-size="8" text-anchor="end" fill="#383838" stroke="#383838" stroke-width="0.1">V1Me</text>
<text transform="translate(196.54,377.30) rotate(-45)" font-size="8" text-anchor="end" fill="#383838" stroke="#383838" stroke-width="0.1">K1Me</text>
<text transform="translate(210.54,377.30) rotate(-45)" font-size="8" text-anchor="end" fill="#383838" stroke="#383838" stroke-width="0.1">V2Me</text>
<text transform="translate(224.55,377.30) rotate(-45)" font-size="8" text-anchor="end" fill="#383838" stroke="#383838" stroke-width="0.1">K2Me</text>
<text transform="translate(238.55,377.30) rotate(-45)" font-size="8" text-anchor="end" fill="#383838" stroke="#383838" stroke-width="0.1">V1Ma</text>
<text transform="translate(252.55,377.30) rotate(-45)" font-size="8" text-anchor="end" fill="#383838" stroke="#383838" stroke-width="0.1">K1Ma</text>
<text transform="translate(266.56,377.30) rotate(-45)" font-size="8" text-anchor="end" fill="#383838" stroke="#383838" stroke-width="0.1">V2Ma</text>
<text transform="translate(280.56,377.30) rotate(-45)" font-size="8" text-anchor="end" fill="#383838" stroke="#383838" stroke-width="0.1">K2Ma</text>
<text transform="translate(294.57,377.30) rotate(-45)" font-size="8" text-anchor="end" fill="#383838" stroke="#383838" stroke-width="0.1">V1Mb</text>
<text transform="translate(308.57,377.30) rotate(-45)" font-size="8" text-anchor="end" fill="#383838" stroke="#383838" stroke-width="0.1">K1Mb</text>
<text transform="translate(322.57,377.30) rotate(-45)" font-size="8" text-anchor="end" fill="#383838" stroke="#383838" stroke-width="0.1">V2Mb</text>
<text transform="translate(336.58,377.30) rotate(-45)" font-size="8" text-anchor="end" fill="#383838" stroke="#383838" stroke-width="0.1">K2Mb</text>
<text transform="translate(350.58,377.30) rotate(-45)" font-size="8" text-anchor="end" fill="#383838" stroke="#383838" stroke-width="0.1">V1cdc20</text>
<text transform="translate(364.58,377.30) rotate(-45)" font-size="8" text-anchor="end" fill="#383838" stroke="#383838" stroke-width="0.1">K1cdc20</text>
<text transform="translate(378.59,377.30) rotate(-45)" font-size="8" text-anchor="end" fill="#383838" stroke="#383838" stroke-width="0.1">V2cdc20</text>
<text transform="translate(392.59,377.30) rotate(-45)" font-size="8" text-anchor="end" fill="#383838" stroke="#383838" stroke-width="0.1">K2cdc20</text>
<text transform="translate(406.60,377.30) rotate(-45)" font-size="8" text-anchor="end" fill="#383838" stroke="#383838" stroke-width="0.1">Kie</text>
<text transform="translate(35.50,323.45) rotate(-90)" font-size="11.3" text-anchor="middle" fill="#1e1e1e" stroke="#1e1e1e" stroke-width="0.4">Change in period (%)</text>
<text x="6.00" y="280.00" font-size="14" text-anchor="start" fill="#000" stroke="#000" stroke-width="0.25" >C</text>
<text x="324.90" y="294.80" font-size="8.8" text-anchor="start" fill="#000" stroke="#000" stroke-width="0.15" >Variability: +20 %</text>
<rect x="51.50" y="412.50" width="364.10" height="85.80" fill="none" stroke="#999999" stroke-width="0.9"/>
<line x1="65.50" y1="498.30" x2="65.50" y2="494.70" stroke="#999999" stroke-width="0.9"/>
<line x1="65.50" y1="412.50" x2="65.50" y2="416.10" stroke="#999999" stroke-width="0.9"/>
<line x1="79.51" y1="498.30" x2="79.51" y2="494.70" stroke="#999999" stroke-width="0.9"/>
<line x1="79.51" y1="412.50" x2="79.51" y2="416.10" stroke="#999999" stroke-width="0.9"/>
<line x1="93.51" y1="498.30" x2="93.51" y2="494.70" stroke="#999999" stroke-width="0.9"/>
<line x1="93.51" y1="412.50" x2="93.51" y2="416.10" stroke="#999999" stroke-width="0.9"/>
<line x1="107.52" y1="498.30" x2="107.52" y2="494.70" stroke="#999999" stroke-width="0.9"/>
<line x1="107.52" y1="412.50" x2="107.52" y2="416.10" stroke="#999999" stroke-width="0.9"/>
<line x1="121.52" y1="498.30" x2="121.52" y2="494.70" stroke="#999999" stroke-width="0.9"/>
<line x1="121.52" y1="412.50" x2="121.52" y2="416.10" stroke="#999999" stroke-width="0.9"/>
<line x1="135.52" y1="498.30" x2="135.52" y2="494.70" stroke="#999999" stroke-width="0.9"/>
<line x1="135.52" y1="412.50" x2="135.52" y2="416.10" stroke="#999999" stroke-width="0.9"/>
<line x1="149.53" y1="498.30" x2="149.53" y2="494.70" stroke="#999999" stroke-width="0.9"/>
<line x1="149.53" y1="412.50" x2="149.53" y2="416.10" stroke="#999999" stroke-width="0.9"/>
<line x1="163.53" y1="498.30" x2="163.53" y2="494.70" stroke="#999999" stroke-width="0.9"/>
<line x1="163.53" y1="412.50" x2="163.53" y2="416.10" stroke="#999999" stroke-width="0.9"/>
<line x1="177.53" y1="498.30" x2="177.53" y2="494.70" stroke="#999999" stroke-width="0.9"/>
<line x1="177.53" y1="412.50" x2="177.53" y2="416.10" stroke="#999999" stroke-width="0.9"/>
<line x1="191.54" y1="498.30" x2="191.54" y2="494.70" stroke="#999999" stroke-width="0.9"/>
<line x1="191.54" y1="412.50" x2="191.54" y2="416.10" stroke="#999999" stroke-width="0.9"/>
<line x1="205.54" y1="498.30" x2="205.54" y2="494.70" stroke="#999999" stroke-width="0.9"/>
<line x1="205.54" y1="412.50" x2="205.54" y2="416.10" stroke="#999999" stroke-width="0.9"/>
<line x1="219.55" y1="498.30" x2="219.55" y2="494.70" stroke="#999999" stroke-width="0.9"/>
<line x1="219.55" y1="412.50" x2="219.55" y2="416.10" stroke="#999999" stroke-width="0.9"/>
<line x1="233.55" y1="498.30" x2="233.55" y2="494.70" stroke="#999999" stroke-width="0.9"/>
<line x1="233.55" y1="412.50" x2="233.55" y2="416.10" stroke="#999999" stroke-width="0.9"/>
<line x1="247.55" y1="498.30" x2="247.55" y2="494.70" stroke="#999999" stroke-width="0.9"/>
<line x1="247.55" y1="412.50" x2="247.55" y2="416.10" stroke="#999999" stroke-width="0.9"/>
<line x1="261.56" y1="498.30" x2="261.56" y2="494.70" stroke="#999999" stroke-width="0.9"/>
<line x1="261.56" y1="412.50" x2="261.56" y2="416.10" stroke="#999999" stroke-width="0.9"/>
<line x1="275.56" y1="498.30" x2="275.56" y2="494.70" stroke="#999999" stroke-width="0.9"/>
<line x1="275.56" y1="412.50" x2="275.56" y2="416.10" stroke="#999999" stroke-width="0.9"/>
<line x1="289.57" y1="498.30" x2="289.57" y2="494.70" stroke="#999999" stroke-width="0.9"/>
<line x1="289.57" y1="412.50" x2="289.57" y2="416.10" stroke="#999999" stroke-width="0.9"/>
<line x1="303.57" y1="498.30" x2="303.57" y2="494.70" stroke="#999999" stroke-width="0.9"/>
<line x1="303.57" y1="412.50" x2="303.57" y2="416.10" stroke="#999999" stroke-width="0.9"/>
<line x1="317.57" y1="498.30" x2="317.57" y2="494.70" stroke="#999999" stroke-width="0.9"/>
<line x1="317.57" y1="412.50" x2="317.57" y2="416.10" stroke="#999999" stroke-width="0.9"/>
<line x1="331.58" y1="498.30" x2="331.58" y2="494.70" stroke="#999999" stroke-width="0.9"/>
<line x1="331.58" y1="412.50" x2="331.58" y2="416.10" stroke="#999999" stroke-width="0.9"/>
<line x1="345.58" y1="498.30" x2="345.58" y2="494.70" stroke="#999999" stroke-width="0.9"/>
<line x1="345.58" y1="412.50" x2="345.58" y2="416.10" stroke="#999999" stroke-width="0.9"/>
<line x1="359.58" y1="498.30" x2="359.58" y2="494.70" stroke="#999999" stroke-width="0.9"/>
<line x1="359.58" y1="412.50" x2="359.58" y2="416.10" stroke="#999999" stroke-width="0.9"/>
<line x1="373.59" y1="498.30" x2="373.59" y2="494.70" stroke="#999999" stroke-width="0.9"/>
<line x1="373.59" y1="412.50" x2="373.59" y2="416.10" stroke="#999999" stroke-width="0.9"/>
<line x1="387.59" y1="498.30" x2="387.59" y2="494.70" stroke="#999999" stroke-width="0.9"/>
<line x1="387.59" y1="412.50" x2="387.59" y2="416.10" stroke="#999999" stroke-width="0.9"/>
<line x1="401.60" y1="498.30" x2="401.60" y2="494.70" stroke="#999999" stroke-width="0.9"/>
<line x1="401.60" y1="412.50" x2="401.60" y2="416.10" stroke="#999999" stroke-width="0.9"/>
<line x1="51.50" y1="498.30" x2="55.10" y2="498.30" stroke="#999999" stroke-width="0.9"/>
<line x1="415.60" y1="498.30" x2="412.00" y2="498.30" stroke="#999999" stroke-width="0.9"/>
<line x1="51.50" y1="471.10" x2="55.10" y2="471.10" stroke="#999999" stroke-width="0.9"/>
<line x1="415.60" y1="471.10" x2="412.00" y2="471.10" stroke="#999999" stroke-width="0.9"/>
<line x1="51.50" y1="443.89" x2="55.10" y2="443.89" stroke="#999999" stroke-width="0.9"/>
<line x1="415.60" y1="443.89" x2="412.00" y2="443.89" stroke="#999999" stroke-width="0.9"/>
<line x1="51.50" y1="416.69" x2="55.10" y2="416.69" stroke="#999999" stroke-width="0.9"/>
<line x1="415.60" y1="416.69" x2="412.00" y2="416.69" stroke="#999999" stroke-width="0.9"/>
<clipPath id="clipD"><rect x="51.5" y="412.5" width="364.1" height="85.80000000000001"/></clipPath>
<g clip-path="url(#clipD)">
<line x1="51.5" y1="471.10" x2="415.6" y2="471.10" stroke="#555555" stroke-width="0.7"/>
<rect x="59.90" y="460.70" width="11.20" height="10.39" fill="#0072BD" stroke="#1b1b1b" stroke-width="0.5"/>
<rect x="73.91" y="471.10" width="11.20" height="0.30" fill="#0072BD" stroke="#1b1b1b" stroke-width="0.5"/>
<rect x="87.91" y="456.30" width="11.20" height="14.80" fill="#0072BD" stroke="#1b1b1b" stroke-width="0.5"/>
<rect x="101.91" y="470.82" width="11.20" height="0.30" fill="#0072BD" stroke="#1b1b1b" stroke-width="0.5"/>
<rect x="115.92" y="471.10" width="11.20" height="4.79" fill="#0072BD" stroke="#1b1b1b" stroke-width="0.5"/>
<rect x="129.92" y="470.55" width="11.20" height="0.54" fill="#0072BD" stroke="#1b1b1b" stroke-width="0.5"/>
<rect x="143.93" y="405.81" width="11.20" height="65.29" fill="#0072BD" stroke="#1b1b1b" stroke-width="0.5"/>
<rect x="157.93" y="471.10" width="11.20" height="0.30" fill="#0072BD" stroke="#1b1b1b" stroke-width="0.5"/>
<rect x="171.93" y="471.10" width="11.20" height="15.67" fill="#0072BD" stroke="#1b1b1b" stroke-width="0.5"/>
<rect x="185.94" y="469.46" width="11.20" height="1.63" fill="#0072BD" stroke="#1b1b1b" stroke-width="0.5"/>
<rect x="199.94" y="446.72" width="11.20" height="24.37" fill="#0072BD" stroke="#1b1b1b" stroke-width="0.5"/>
<rect x="213.94" y="471.10" width="11.20" height="0.30" fill="#0072BD" stroke="#1b1b1b" stroke-width="0.5"/>
<rect x="227.95" y="445.69" width="11.20" height="25.41" fill="#0072BD" stroke="#1b1b1b" stroke-width="0.5"/>
<rect x="241.95" y="471.10" width="11.20" height="0.30" fill="#0072BD" stroke="#1b1b1b" stroke-width="0.5"/>
<rect x="255.96" y="450.58" width="11.20" height="20.51" fill="#0072BD" stroke="#1b1b1b" stroke-width="0.5"/>
<rect x="269.96" y="471.10" width="11.20" height="0.30" fill="#0072BD" stroke="#1b1b1b" stroke-width="0.5"/>
<rect x="283.96" y="462.01" width="11.20" height="9.09" fill="#0072BD" stroke="#1b1b1b" stroke-width="0.5"/>
<rect x="297.97" y="471.10" width="11.20" height="0.30" fill="#0072BD" stroke="#1b1b1b" stroke-width="0.5"/>
<rect x="311.97" y="446.72" width="11.20" height="24.37" fill="#0072BD" stroke="#1b1b1b" stroke-width="0.5"/>
<rect x="325.98" y="471.10" width="11.20" height="0.30" fill="#0072BD" stroke="#1b1b1b" stroke-width="0.5"/>
<rect x="339.98" y="461.41" width="11.20" height="9.68" fill="#0072BD" stroke="#1b1b1b" stroke-width="0.5"/>
<rect x="353.98" y="471.10" width="11.20" height="0.30" fill="#0072BD" stroke="#1b1b1b" stroke-width="0.5"/>
<rect x="367.99" y="459.13" width="11.20" height="11.97" fill="#0072BD" stroke="#1b1b1b" stroke-width="0.5"/>
<rect x="381.99" y="471.10" width="11.20" height="0.30" fill="#0072BD" stroke="#1b1b1b" stroke-width="0.5"/>
<rect x="395.99" y="462.72" width="11.20" height="8.38" fill="#0072BD" stroke="#1b1b1b" stroke-width="0.5"/>
</g>
<text x="48.00" y="501.30" font-size="8.8" text-anchor="end" fill="#1e1e1e" stroke="#1e1e1e" stroke-width="0.2" >-5</text>
<text x="48.00" y="474.10" font-size="8.8" text-anchor="end" fill="#1e1e1e" stroke="#1e1e1e" stroke-width="0.2" >0</text>
<text x="48.00" y="446.89" font-size="8.8" text-anchor="end" fill="#1e1e1e" stroke="#1e1e1e" stroke-width="0.2" >5</text>
<text x="48.00" y="419.69" font-size="8.8" text-anchor="end" fill="#1e1e1e" stroke="#1e1e1e" stroke-width="0.2" >10</text>
<text transform="translate(70.50,508.80) rotate(-45)" font-size="8" text-anchor="end" fill="#383838" stroke="#383838" stroke-width="0.1">vsd</text>
<text transform="translate(84.51,508.80) rotate(-45)" font-size="8" text-anchor="end" fill="#383838" stroke="#383838" stroke-width="0.1">Kgf</text>
<text transform="translate(98.51,508.80) rotate(-45)" font-size="8" text-anchor="end" fill="#383838" stroke="#383838" stroke-width="0.1">vdd</text>
<text transform="translate(112.52,508.80) rotate(-45)" font-size="8" text-anchor="end" fill="#383838" stroke="#383838" stroke-width="0.1">Kdd</text>
<text transform="translate(126.52,508.80) rotate(-45)" font-size="8" text-anchor="end" fill="#383838" stroke="#383838" stroke-width="0.1">V1e2f</text>
<text transform="translate(140.52,508.80) rotate(-45)" font-size="8" text-anchor="end" fill="#383838" stroke="#383838" stroke-width="0.1">K1e2f</text>
<text transform="translate(154.53,508.80) rotate(-45)" font-size="8" text-anchor="end" fill="#383838" stroke="#383838" stroke-width="0.1">V2e2f</text>
<text transform="translate(168.53,508.80) rotate(-45)" font-size="8" text-anchor="end" fill="#383838" stroke="#383838" stroke-width="0.1">K2e2f</text>
<text transform="translate(182.53,508.80) rotate(-45)" font-size="8" text-anchor="end" fill="#383838" stroke="#383838" stroke-width="0.1">V1Me</text>
<text transform="translate(196.54,508.80) rotate(-45)" font-size="8" text-anchor="end" fill="#383838" stroke="#383838" stroke-width="0.1">K1Me</text>
<text transform="translate(210.54,508.80) rotate(-45)" font-size="8" text-anchor="end" fill="#383838" stroke="#383838" stroke-width="0.1">V2Me</text>
<text transform="translate(224.55,508.80) rotate(-45)" font-size="8" text-anchor="end" fill="#383838" stroke="#383838" stroke-width="0.1">K2Me</text>
<text transform="translate(238.55,508.80) rotate(-45)" font-size="8" text-anchor="end" fill="#383838" stroke="#383838" stroke-width="0.1">V1Ma</text>
<text transform="translate(252.55,508.80) rotate(-45)" font-size="8" text-anchor="end" fill="#383838" stroke="#383838" stroke-width="0.1">K1Ma</text>
<text transform="translate(266.56,508.80) rotate(-45)" font-size="8" text-anchor="end" fill="#383838" stroke="#383838" stroke-width="0.1">V2Ma</text>
<text transform="translate(280.56,508.80) rotate(-45)" font-size="8" text-anchor="end" fill="#383838" stroke="#383838" stroke-width="0.1">K2Ma</text>
<text transform="translate(294.57,508.80) rotate(-45)" font-size="8" text-anchor="end" fill="#383838" stroke="#383838" stroke-width="0.1">V1Mb</text>
<text transform="translate(308.57,508.80) rotate(-45)" font-size="8" text-anchor="end" fill="#383838" stroke="#383838" stroke-width="0.1">K1Mb</text>
<text transform="translate(322.57,508.80) rotate(-45)" font-size="8" text-anchor="end" fill="#383838" stroke="#383838" stroke-width="0.1">V2Mb</text>
<text transform="translate(336.58,508.80) rotate(-45)" font-size="8" text-anchor="end" fill="#383838" stroke="#383838" stroke-width="0.1">K2Mb</text>
<text transform="translate(350.58,508.80) rotate(-45)" font-size="8" text-anchor="end" fill="#383838" stroke="#383838" stroke-width="0.1">V1cdc20</text>
<text transform="translate(364.58,508.80) rotate(-45)" font-size="8" text-anchor="end" fill="#383838" stroke="#383838" stroke-width="0.1">K1cdc20</text>
<text transform="translate(378.59,508.80) rotate(-45)" font-size="8" text-anchor="end" fill="#383838" stroke="#383838" stroke-width="0.1">V2cdc20</text>
<text transform="translate(392.59,508.80) rotate(-45)" font-size="8" text-anchor="end" fill="#383838" stroke="#383838" stroke-width="0.1">K2cdc20</text>
<text transform="translate(406.60,508.80) rotate(-45)" font-size="8" text-anchor="end" fill="#383838" stroke="#383838" stroke-width="0.1">Kie</text>
<text transform="translate(34.20,455.40) rotate(-90)" font-size="11.3" text-anchor="middle" fill="#1e1e1e" stroke="#1e1e1e" stroke-width="0.4">Change in period (%)</text>
<text x="6.00" y="411.70" font-size="14" text-anchor="start" fill="#000" stroke="#000" stroke-width="0.25" >D</text>
<text x="324.90" y="427.20" font-size="8.8" text-anchor="start" fill="#000" stroke="#000" stroke-width="0.15" >Variability: -20 %</text>
<text x="233.55" y="543.80" font-size="11.5" text-anchor="middle" fill="#1e1e1e" stroke="#1e1e1e" stroke-width="0.4" >Parameter</text>
</g>
</svg></div>
</body></html>
